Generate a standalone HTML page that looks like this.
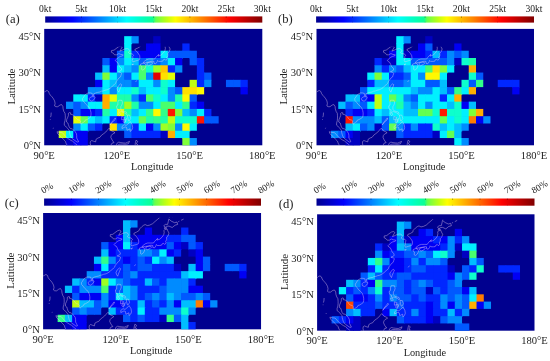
<!DOCTYPE html>
<html><head><meta charset="utf-8"><title>Figure</title>
<style>html,body{margin:0;padding:0;background:#fff}svg{display:block;filter:blur(0.3px)}text{font-family:'Liberation Serif',serif;fill:#222}</style></head><body>
<svg width="550" height="361" viewBox="0 0 550 361">
<rect width="550" height="361" fill="#fff"/>
<defs><linearGradient id="jet" x1="0" x2="1" y1="0" y2="0">
<stop offset="0.0000" stop-color="#00008f"/>
<stop offset="0.1250" stop-color="#0000ff"/>
<stop offset="0.2500" stop-color="#0080ff"/>
<stop offset="0.3750" stop-color="#00ffff"/>
<stop offset="0.4400" stop-color="#00ffc7"/>
<stop offset="0.4950" stop-color="#0dff94"/>
<stop offset="0.5100" stop-color="#66ff4c"/>
<stop offset="0.5600" stop-color="#bfff14"/>
<stop offset="0.6000" stop-color="#ffff00"/>
<stop offset="0.7250" stop-color="#ff8000"/>
<stop offset="0.8500" stop-color="#ff0000"/>
<stop offset="1.0000" stop-color="#800000"/>
</linearGradient></defs>
<g>
<rect x="44.20" y="28.90" width="218.10" height="116.40" fill="#00008f"/>
<rect x="124.17" y="36.17" width="7.97" height="7.98" fill="#00f0ff"/>
<rect x="131.44" y="36.17" width="7.27" height="7.28" fill="#008bff"/>
<rect x="153.25" y="36.17" width="7.27" height="7.98" fill="#0000c2"/>
<rect x="124.17" y="43.45" width="7.27" height="7.98" fill="#00f0ff"/>
<rect x="145.98" y="43.45" width="7.97" height="7.98" fill="#0000f4"/>
<rect x="153.25" y="43.45" width="7.27" height="7.98" fill="#0000f4"/>
<rect x="182.33" y="43.45" width="7.27" height="7.98" fill="#0027ff"/>
<rect x="116.90" y="50.73" width="7.97" height="7.98" fill="#0059ff"/>
<rect x="124.17" y="50.73" width="7.97" height="7.98" fill="#0dffcc"/>
<rect x="131.44" y="50.73" width="7.97" height="7.98" fill="#0027ff"/>
<rect x="138.71" y="50.73" width="7.97" height="7.98" fill="#0000f4"/>
<rect x="145.98" y="50.73" width="7.97" height="7.98" fill="#0000f4"/>
<rect x="153.25" y="50.73" width="7.97" height="7.98" fill="#0000f4"/>
<rect x="160.52" y="50.73" width="7.97" height="7.98" fill="#00f0ff"/>
<rect x="167.79" y="50.73" width="7.97" height="7.98" fill="#0059ff"/>
<rect x="175.06" y="50.73" width="7.97" height="7.98" fill="#0059ff"/>
<rect x="182.33" y="50.73" width="7.97" height="7.28" fill="#0059ff"/>
<rect x="189.60" y="50.73" width="7.27" height="7.98" fill="#0059ff"/>
<rect x="102.36" y="58.00" width="7.97" height="7.98" fill="#0059ff"/>
<rect x="109.63" y="58.00" width="7.97" height="7.98" fill="#0000f4"/>
<rect x="116.90" y="58.00" width="7.97" height="7.98" fill="#008bff"/>
<rect x="124.17" y="58.00" width="7.97" height="7.98" fill="#00f0ff"/>
<rect x="131.44" y="58.00" width="7.97" height="7.98" fill="#00beff"/>
<rect x="138.71" y="58.00" width="7.97" height="7.98" fill="#0059ff"/>
<rect x="145.98" y="58.00" width="7.97" height="7.98" fill="#008bff"/>
<rect x="153.25" y="58.00" width="7.97" height="7.98" fill="#0059ff"/>
<rect x="160.52" y="58.00" width="7.97" height="7.98" fill="#008bff"/>
<rect x="167.79" y="58.00" width="7.97" height="7.98" fill="#00f0ff"/>
<rect x="175.06" y="58.00" width="7.27" height="7.98" fill="#0000f4"/>
<rect x="189.60" y="58.00" width="7.97" height="7.28" fill="#0059ff"/>
<rect x="196.87" y="58.00" width="7.27" height="7.98" fill="#0027ff"/>
<rect x="102.36" y="65.28" width="7.97" height="7.98" fill="#00beff"/>
<rect x="109.63" y="65.28" width="7.97" height="7.98" fill="#0000f4"/>
<rect x="116.90" y="65.28" width="7.97" height="7.98" fill="#00f0ff"/>
<rect x="124.17" y="65.28" width="7.97" height="7.98" fill="#00beff"/>
<rect x="131.44" y="65.28" width="7.97" height="7.98" fill="#008bff"/>
<rect x="138.71" y="65.28" width="7.97" height="7.98" fill="#49ff6d"/>
<rect x="145.98" y="65.28" width="7.97" height="7.98" fill="#0dffcc"/>
<rect x="153.25" y="65.28" width="7.97" height="7.98" fill="#9eff24"/>
<rect x="160.52" y="65.28" width="7.97" height="7.98" fill="#ffc700"/>
<rect x="167.79" y="65.28" width="7.97" height="7.98" fill="#0027ff"/>
<rect x="175.06" y="65.28" width="7.27" height="7.28" fill="#008bff"/>
<rect x="196.87" y="65.28" width="7.27" height="7.98" fill="#0027ff"/>
<rect x="95.09" y="72.55" width="7.97" height="7.98" fill="#00beff"/>
<rect x="102.36" y="72.55" width="7.97" height="7.98" fill="#7fff39"/>
<rect x="109.63" y="72.55" width="7.97" height="7.98" fill="#00f0ff"/>
<rect x="116.90" y="72.55" width="7.97" height="7.98" fill="#008bff"/>
<rect x="124.17" y="72.55" width="7.97" height="7.98" fill="#0059ff"/>
<rect x="131.44" y="72.55" width="7.97" height="7.98" fill="#00f0ff"/>
<rect x="138.71" y="72.55" width="7.97" height="7.98" fill="#49ff6d"/>
<rect x="145.98" y="72.55" width="7.97" height="7.98" fill="#008bff"/>
<rect x="153.25" y="72.55" width="7.97" height="7.98" fill="#e40000"/>
<rect x="160.52" y="72.55" width="7.97" height="7.98" fill="#ffe000"/>
<rect x="167.79" y="72.55" width="7.27" height="7.98" fill="#e3ff05"/>
<rect x="196.87" y="72.55" width="7.97" height="7.98" fill="#0027ff"/>
<rect x="204.14" y="72.55" width="7.27" height="7.98" fill="#0059ff"/>
<rect x="95.09" y="79.83" width="7.97" height="7.98" fill="#0000f4"/>
<rect x="102.36" y="79.83" width="7.97" height="7.98" fill="#00f0ff"/>
<rect x="109.63" y="79.83" width="7.97" height="7.98" fill="#00beff"/>
<rect x="116.90" y="79.83" width="7.97" height="7.98" fill="#008bff"/>
<rect x="124.17" y="79.83" width="7.97" height="7.98" fill="#008bff"/>
<rect x="131.44" y="79.83" width="7.97" height="7.98" fill="#0059ff"/>
<rect x="138.71" y="79.83" width="7.97" height="7.98" fill="#00f0ff"/>
<rect x="145.98" y="79.83" width="7.97" height="7.98" fill="#00f0ff"/>
<rect x="153.25" y="79.83" width="7.97" height="7.98" fill="#008bff"/>
<rect x="160.52" y="79.83" width="7.97" height="7.98" fill="#0dffcc"/>
<rect x="167.79" y="79.83" width="7.27" height="7.98" fill="#00f0ff"/>
<rect x="189.60" y="79.83" width="7.97" height="7.98" fill="#c0ff12"/>
<rect x="196.87" y="79.83" width="7.97" height="7.98" fill="#0027ff"/>
<rect x="204.14" y="79.83" width="7.27" height="7.28" fill="#008bff"/>
<rect x="225.95" y="79.83" width="7.97" height="7.28" fill="#0059ff"/>
<rect x="233.22" y="79.83" width="7.97" height="7.28" fill="#0059ff"/>
<rect x="240.49" y="79.83" width="7.27" height="7.98" fill="#0027ff"/>
<rect x="87.82" y="87.10" width="7.97" height="7.98" fill="#008bff"/>
<rect x="95.09" y="87.10" width="7.97" height="7.98" fill="#008bff"/>
<rect x="102.36" y="87.10" width="7.97" height="7.98" fill="#00f0ff"/>
<rect x="109.63" y="87.10" width="7.97" height="7.98" fill="#008bff"/>
<rect x="116.90" y="87.10" width="7.97" height="7.98" fill="#00f0ff"/>
<rect x="124.17" y="87.10" width="7.97" height="7.98" fill="#00f0ff"/>
<rect x="131.44" y="87.10" width="7.97" height="7.98" fill="#0dffcc"/>
<rect x="138.71" y="87.10" width="7.97" height="7.98" fill="#00beff"/>
<rect x="145.98" y="87.10" width="7.97" height="7.98" fill="#00f0ff"/>
<rect x="153.25" y="87.10" width="7.97" height="7.98" fill="#00f0ff"/>
<rect x="160.52" y="87.10" width="7.97" height="7.98" fill="#0dffcc"/>
<rect x="167.79" y="87.10" width="7.97" height="7.98" fill="#008bff"/>
<rect x="175.06" y="87.10" width="7.97" height="7.98" fill="#0059ff"/>
<rect x="182.33" y="87.10" width="7.97" height="7.98" fill="#ffe000"/>
<rect x="189.60" y="87.10" width="7.97" height="7.98" fill="#ffe000"/>
<rect x="196.87" y="87.10" width="7.27" height="7.28" fill="#fff900"/>
<rect x="240.49" y="87.10" width="7.27" height="7.28" fill="#0000f4"/>
<rect x="73.28" y="94.38" width="7.97" height="7.98" fill="#00f0ff"/>
<rect x="80.55" y="94.38" width="7.97" height="7.98" fill="#00f0ff"/>
<rect x="87.82" y="94.38" width="7.97" height="7.98" fill="#0027ff"/>
<rect x="95.09" y="94.38" width="7.97" height="7.98" fill="#0000c2"/>
<rect x="102.36" y="94.38" width="7.97" height="7.98" fill="#ffae00"/>
<rect x="109.63" y="94.38" width="7.97" height="7.98" fill="#e3ff05"/>
<rect x="116.90" y="94.38" width="7.97" height="7.98" fill="#1dffaa"/>
<rect x="124.17" y="94.38" width="7.97" height="7.98" fill="#1dffaa"/>
<rect x="131.44" y="94.38" width="7.97" height="7.98" fill="#008bff"/>
<rect x="138.71" y="94.38" width="7.97" height="7.98" fill="#0027ff"/>
<rect x="145.98" y="94.38" width="7.97" height="7.98" fill="#49ff6d"/>
<rect x="153.25" y="94.38" width="7.97" height="7.98" fill="#0dffcc"/>
<rect x="160.52" y="94.38" width="7.97" height="7.98" fill="#00f0ff"/>
<rect x="167.79" y="94.38" width="7.97" height="7.98" fill="#008bff"/>
<rect x="175.06" y="94.38" width="7.97" height="7.98" fill="#1dffaa"/>
<rect x="182.33" y="94.38" width="7.97" height="7.98" fill="#fff900"/>
<rect x="189.60" y="94.38" width="7.27" height="7.98" fill="#0059ff"/>
<rect x="66.01" y="101.65" width="7.97" height="7.28" fill="#008bff"/>
<rect x="73.28" y="101.65" width="7.97" height="7.98" fill="#0059ff"/>
<rect x="80.55" y="101.65" width="7.97" height="7.98" fill="#008bff"/>
<rect x="87.82" y="101.65" width="7.97" height="7.98" fill="#00f0ff"/>
<rect x="95.09" y="101.65" width="7.97" height="7.98" fill="#00f0ff"/>
<rect x="102.36" y="101.65" width="7.97" height="7.98" fill="#ffae00"/>
<rect x="109.63" y="101.65" width="7.97" height="7.98" fill="#1dffaa"/>
<rect x="116.90" y="101.65" width="7.97" height="7.98" fill="#1dffaa"/>
<rect x="124.17" y="101.65" width="7.97" height="7.98" fill="#9eff24"/>
<rect x="131.44" y="101.65" width="7.97" height="7.98" fill="#1dffaa"/>
<rect x="138.71" y="101.65" width="7.97" height="7.98" fill="#008bff"/>
<rect x="145.98" y="101.65" width="7.97" height="7.98" fill="#008bff"/>
<rect x="153.25" y="101.65" width="7.97" height="7.98" fill="#00f0ff"/>
<rect x="160.52" y="101.65" width="7.97" height="7.98" fill="#49ff6d"/>
<rect x="167.79" y="101.65" width="7.97" height="7.98" fill="#49ff6d"/>
<rect x="175.06" y="101.65" width="7.97" height="7.98" fill="#00f0ff"/>
<rect x="182.33" y="101.65" width="7.97" height="7.98" fill="#31ff8a"/>
<rect x="189.60" y="101.65" width="7.97" height="7.98" fill="#0027ff"/>
<rect x="196.87" y="101.65" width="7.27" height="7.98" fill="#0000f4"/>
<rect x="73.28" y="108.93" width="7.97" height="7.98" fill="#0059ff"/>
<rect x="80.55" y="108.93" width="7.97" height="7.98" fill="#0000f4"/>
<rect x="87.82" y="108.93" width="7.97" height="7.98" fill="#0000f4"/>
<rect x="95.09" y="108.93" width="7.97" height="7.98" fill="#0027ff"/>
<rect x="102.36" y="108.93" width="7.97" height="7.98" fill="#1dffaa"/>
<rect x="109.63" y="108.93" width="7.97" height="7.98" fill="#00f0ff"/>
<rect x="116.90" y="108.93" width="7.97" height="7.98" fill="#e3ff05"/>
<rect x="124.17" y="108.93" width="7.97" height="7.98" fill="#1dffaa"/>
<rect x="131.44" y="108.93" width="7.97" height="7.98" fill="#00beff"/>
<rect x="138.71" y="108.93" width="7.97" height="7.98" fill="#00f0ff"/>
<rect x="145.98" y="108.93" width="7.97" height="7.98" fill="#31ff8a"/>
<rect x="153.25" y="108.93" width="7.97" height="7.98" fill="#fff900"/>
<rect x="160.52" y="108.93" width="7.97" height="7.98" fill="#31ff8a"/>
<rect x="167.79" y="108.93" width="7.97" height="7.98" fill="#ff1700"/>
<rect x="175.06" y="108.93" width="7.97" height="7.98" fill="#7fff39"/>
<rect x="182.33" y="108.93" width="7.97" height="7.98" fill="#00beff"/>
<rect x="189.60" y="108.93" width="7.97" height="7.98" fill="#008bff"/>
<rect x="196.87" y="108.93" width="7.97" height="7.98" fill="#00f0ff"/>
<rect x="204.14" y="108.93" width="7.27" height="7.98" fill="#0027ff"/>
<rect x="73.28" y="116.20" width="7.97" height="7.98" fill="#e3ff05"/>
<rect x="80.55" y="116.20" width="7.97" height="7.98" fill="#63ff52"/>
<rect x="87.82" y="116.20" width="7.97" height="7.98" fill="#00f0ff"/>
<rect x="95.09" y="116.20" width="7.97" height="7.98" fill="#00beff"/>
<rect x="102.36" y="116.20" width="7.97" height="7.28" fill="#00f0ff"/>
<rect x="109.63" y="116.20" width="7.97" height="7.98" fill="#0027ff"/>
<rect x="116.90" y="116.20" width="7.97" height="7.98" fill="#0000f4"/>
<rect x="124.17" y="116.20" width="7.97" height="7.98" fill="#00f0ff"/>
<rect x="131.44" y="116.20" width="7.97" height="7.98" fill="#00f0ff"/>
<rect x="138.71" y="116.20" width="7.97" height="7.98" fill="#63ff52"/>
<rect x="145.98" y="116.20" width="7.97" height="7.98" fill="#1dffaa"/>
<rect x="153.25" y="116.20" width="7.97" height="7.98" fill="#31ff8a"/>
<rect x="160.52" y="116.20" width="7.97" height="7.98" fill="#1dffaa"/>
<rect x="167.79" y="116.20" width="7.97" height="7.98" fill="#c0ff12"/>
<rect x="175.06" y="116.20" width="7.97" height="7.98" fill="#0dffcc"/>
<rect x="182.33" y="116.20" width="7.97" height="7.98" fill="#0dffcc"/>
<rect x="189.60" y="116.20" width="7.97" height="7.98" fill="#0dffcc"/>
<rect x="196.87" y="116.20" width="7.97" height="7.28" fill="#ff1700"/>
<rect x="204.14" y="116.20" width="7.97" height="7.28" fill="#0059ff"/>
<rect x="211.41" y="116.20" width="7.27" height="7.28" fill="#0059ff"/>
<rect x="73.28" y="123.47" width="7.97" height="7.98" fill="#008bff"/>
<rect x="80.55" y="123.47" width="7.97" height="7.98" fill="#00f0ff"/>
<rect x="87.82" y="123.47" width="7.97" height="7.28" fill="#0059ff"/>
<rect x="95.09" y="123.47" width="7.27" height="7.28" fill="#0027ff"/>
<rect x="109.63" y="123.47" width="7.97" height="7.28" fill="#ffe000"/>
<rect x="116.90" y="123.47" width="7.97" height="7.28" fill="#008bff"/>
<rect x="124.17" y="123.47" width="7.97" height="7.98" fill="#008bff"/>
<rect x="131.44" y="123.47" width="7.97" height="7.98" fill="#0027ff"/>
<rect x="138.71" y="123.47" width="7.97" height="7.98" fill="#00f0ff"/>
<rect x="145.98" y="123.47" width="7.97" height="7.98" fill="#0000f4"/>
<rect x="153.25" y="123.47" width="7.97" height="7.98" fill="#008bff"/>
<rect x="160.52" y="123.47" width="7.97" height="7.98" fill="#9eff24"/>
<rect x="167.79" y="123.47" width="7.97" height="7.98" fill="#7fff39"/>
<rect x="175.06" y="123.47" width="7.97" height="7.98" fill="#008bff"/>
<rect x="182.33" y="123.47" width="7.97" height="7.98" fill="#fff900"/>
<rect x="189.60" y="123.47" width="7.27" height="7.28" fill="#00f0ff"/>
<rect x="58.74" y="130.75" width="7.97" height="7.28" fill="#c0ff12"/>
<rect x="66.01" y="130.75" width="7.97" height="7.98" fill="#00f0ff"/>
<rect x="73.28" y="130.75" width="7.97" height="7.98" fill="#0000f4"/>
<rect x="80.55" y="130.75" width="7.27" height="7.98" fill="#0000f4"/>
<rect x="124.17" y="130.75" width="7.97" height="7.28" fill="#0059ff"/>
<rect x="131.44" y="130.75" width="7.97" height="7.28" fill="#0027ff"/>
<rect x="138.71" y="130.75" width="7.97" height="7.28" fill="#0027ff"/>
<rect x="145.98" y="130.75" width="7.97" height="7.28" fill="#0027ff"/>
<rect x="153.25" y="130.75" width="7.97" height="7.28" fill="#0027ff"/>
<rect x="160.52" y="130.75" width="7.97" height="7.28" fill="#0000c2"/>
<rect x="167.79" y="130.75" width="7.97" height="7.28" fill="#ffae00"/>
<rect x="175.06" y="130.75" width="7.97" height="7.28" fill="#00f0ff"/>
<rect x="182.33" y="130.75" width="7.27" height="7.98" fill="#00f0ff"/>
<rect x="66.01" y="138.03" width="7.97" height="7.28" fill="#0000c2"/>
<rect x="73.28" y="138.03" width="7.97" height="7.28" fill="#0000f4"/>
<rect x="80.55" y="138.03" width="7.27" height="7.28" fill="#0000f4"/>
<rect x="182.33" y="138.03" width="7.97" height="7.28" fill="#7fff39"/>
<rect x="189.60" y="138.03" width="7.27" height="7.28" fill="#008bff"/>
<clipPath id="cla"><rect x="44.20" y="46.84" width="218.10" height="98.46"/></clipPath>
<g clip-path="url(#cla)">
<g fill="none" stroke="#f2d8f2" stroke-width="0.5" stroke-opacity="0.8" stroke-linejoin="round"><polyline points="166.1,28.9 163.7,30.8 161.2,33.0 158.6,35.4 156.2,37.4 153.7,39.6 150.8,41.0 148.4,41.5 146.5,40.5 145.0,41.0 142.8,42.7 140.6,44.9 140.4,46.4 137.7,48.1 135.3,49.0 134.8,50.2 136.8,51.5 138.2,53.4 139.7,55.6 139.9,58.0 139.4,59.7 137.7,60.4 135.8,60.9 132.9,61.9 132.2,60.4 132.9,58.5 132.7,56.5 133.6,55.6 132.4,53.9 129.7,53.6 128.5,52.7 129.7,50.7 129.0,49.3 127.3,48.5 124.7,49.0 122.2,50.2 119.8,51.2 120.8,49.5 122.2,47.1 120.8,46.1 118.8,46.6 116.2,48.5 114.0,50.2 111.6,50.5 111.3,52.2 113.3,53.2 114.5,54.8 116.7,54.8 118.8,53.6 120.8,54.4 123.2,54.8 122.7,55.8 120.1,56.5 118.4,57.5 116.7,59.0 115.2,60.4 116.2,61.6 117.6,62.4 118.8,64.8 119.3,66.5 121.3,68.2 121.5,70.1 119.8,71.1 118.4,71.8 120.8,72.5 121.7,73.3 121.0,75.2 120.5,76.9 118.8,78.1 117.6,79.8 116.4,81.3 115.7,83.2 114.2,84.7 112.5,85.9 111.1,87.6 109.1,88.8 107.2,89.8 104.8,90.3 103.1,91.0 101.4,91.2 99.9,92.0 97.5,92.4 95.1,93.2 93.6,93.9 93.6,95.8 92.4,95.8 92.2,93.4 90.2,92.9 88.3,92.9 86.4,93.9 84.7,95.3 83.7,97.0 82.5,98.7 82.7,100.4 84.2,102.1 85.9,104.3 87.8,106.0 89.5,108.0 90.5,110.4 91.0,112.8 91.0,115.0 90.5,117.2 88.8,118.4 86.9,119.6 85.2,120.1 84.7,121.5 83.0,122.5 81.0,124.2 80.3,122.7 80.6,121.1 79.3,120.1 77.4,119.6 75.9,118.1 75.2,116.7 73.8,115.5 72.1,114.5 70.6,114.3 70.6,112.8 69.4,112.6 68.4,113.3 68.4,115.5 67.7,117.4 66.7,119.6 66.5,122.0 67.9,123.0 68.4,124.7 69.2,126.9 70.4,128.6 72.3,128.8 73.8,130.3 75.2,131.7 76.4,133.7 76.7,135.6 76.7,138.0 77.6,139.7 78.6,141.7 77.2,142.1 75.2,140.7 73.0,139.2 71.6,138.0 70.4,135.8 69.9,134.1 69.4,132.2 69.2,130.3 67.9,128.8 66.7,127.4 65.5,126.1 64.3,125.2 64.3,123.0 65.0,120.6 65.3,118.1 65.3,115.7 65.0,113.3 63.8,111.4 63.1,108.9 62.9,106.5 61.6,104.6 60.0,105.0 57.8,106.7 55.8,106.7 54.6,106.0 55.1,103.3 54.6,100.9 53.4,98.7 52.0,96.8 50.5,95.3 49.3,93.6 48.6,91.5 47.1,90.5 45.7,91.0 44.7,92.0 44.2,92.2"/><polyline points="92.7,96.6 94.8,96.8 95.1,97.8 93.9,99.7 91.9,101.2 89.8,100.4 89.3,98.5 90.7,97.0 92.7,96.6"/><polyline points="120.5,83.9 121.7,84.7 120.8,87.1 119.6,90.0 118.8,92.2 117.6,90.5 117.1,88.3 118.4,85.9 120.5,83.9"/><polyline points="131.9,64.5 133.6,64.1 132.9,64.8 131.9,64.5"/><polyline points="143.3,63.1 145.3,63.8 146.0,65.8 144.8,68.7 142.8,70.1 141.6,69.4 141.9,66.5 140.4,65.5 140.6,64.1 143.3,63.1"/><polyline points="147.2,62.9 150.1,62.1 152.3,62.4 152.5,63.3 151.3,64.5 148.4,65.8 146.9,64.5 147.2,62.9"/><polyline points="143.3,62.9 143.6,61.9 146.5,59.7 148.9,59.0 152.0,59.0 154.7,59.0 155.7,57.5 157.4,55.6 158.8,54.4 158.1,56.1 161.0,55.1 163.2,53.2 164.9,50.7 165.4,48.3 165.1,46.6 166.1,45.4 168.3,44.9 169.0,46.8 170.2,49.0 169.2,51.7 167.8,53.2 167.8,55.6 166.8,57.5 167.3,58.7 165.9,60.4 164.9,59.2 163.4,59.7 162.7,61.2 161.0,61.4 158.6,61.4 157.6,60.4 157.1,61.9 155.7,63.8 154.0,63.3 154.0,61.4 152.0,61.2 149.6,61.9 146.7,62.4 143.6,63.0 143.3,62.9"/><polyline points="165.6,44.7 166.1,42.7 164.9,41.8 166.6,40.3 168.8,40.3 169.5,37.4 170.0,35.0 172.6,37.1 175.8,38.6 178.2,37.9 178.9,40.3 176.3,41.1 173.4,43.5 170.2,42.0 167.8,42.2 166.6,43.2 168.0,43.9 165.6,44.7"/><polyline points="170.5,28.9 170.2,31.3 170.5,33.8 172.2,32.1 173.6,33.0 173.1,30.8 172.2,28.9"/><polyline points="118.4,100.4 119.8,100.2 122.0,100.4 122.5,103.1 121.7,105.3 120.8,106.7 120.8,109.2 122.2,111.1 124.2,111.4 126.4,112.1 126.8,113.8 126.4,114.5 124.9,113.0 123.2,112.3 121.3,111.6 119.6,112.1 118.6,111.6 119.1,109.9 117.4,109.4 116.7,107.5 116.7,105.8 117.9,105.0 117.9,102.6 118.4,100.4"/><polyline points="117.9,112.8 119.8,112.8 120.5,114.7 119.6,115.7 118.4,114.3 117.9,112.8"/><polyline points="110.1,124.9 112.1,122.7 114.0,120.6 115.7,119.1 115.2,117.9 113.5,120.1 111.3,122.7 110.1,124.9"/><polyline points="121.7,116.4 124.4,117.4 123.4,119.6 121.7,119.8 121.7,116.4"/><polyline points="124.2,118.9 125.4,119.4 124.7,123.0 123.0,122.0 124.2,118.9"/><polyline points="126.6,118.1 125.4,122.0"/><polyline points="127.3,115.0 129.7,115.2 130.7,118.4 129.5,120.6 128.5,120.8 127.8,117.9 127.3,115.0"/><polyline points="130.2,121.5 132.2,124.7 132.7,127.8 131.9,130.0 130.2,131.5 130.0,128.8 127.1,130.3 126.6,127.4 125.1,126.9 122.0,128.6 122.0,126.4 124.2,124.7 126.1,125.4 128.0,124.0 130.2,121.5"/><polyline points="90.7,145.3 90.2,143.1 90.5,141.4 91.7,140.5 93.4,141.2 95.6,141.9 96.1,139.2 98.0,138.0 99.9,137.3 101.6,135.1 103.6,133.7 105.8,132.0 107.2,130.3 108.9,128.3 110.4,129.3 111.3,130.8 113.5,131.7 115.0,132.7 112.5,134.1 111.3,135.4 110.8,137.3 112.1,140.0 114.0,142.6 112.1,143.1 110.8,145.3"/><polyline points="67.5,145.3 66.3,144.1 65.3,141.2 63.1,139.0 60.9,136.6 57.8,133.9 57.0,131.7 59.5,132.4 62.4,132.7 64.3,134.9 66.0,136.8 68.4,138.8 70.6,140.2 72.6,141.2 74.5,142.9 75.9,144.1 77.4,145.3"/><polyline points="116.4,145.3 116.9,143.4 118.8,142.1 120.8,142.6 123.2,142.9 125.6,143.1 127.8,142.1 129.5,141.4 128.3,143.8 125.6,144.3 122.7,144.1 119.8,144.1 117.6,145.3"/><polyline points="135.1,145.3 135.3,142.9 136.0,140.2 137.7,141.4 136.3,143.8 137.7,144.6 136.8,145.3"/><polyline points="51.2,112.6 51.0,115.5 50.5,117.2"/><polyline points="50.3,119.1 50.3,119.8"/><polyline points="53.4,127.8 53.2,128.6"/><polyline points="136.8,80.3 135.6,82.0"/><polyline points="179.4,37.6 180.6,37.1"/><polyline points="182.3,36.2 184.8,35.0"/></g>
</g>
<rect x="45.20" y="16.40" width="217.10" height="6.20" fill="url(#jet)"/>
<rect x="81.08" y="16.40" width="0.6" height="1.4" fill="#000" fill-opacity="0.55"/>
<rect x="81.08" y="21.60" width="0.6" height="1.0" fill="#000" fill-opacity="0.3"/>
<rect x="117.27" y="16.40" width="0.6" height="1.4" fill="#000" fill-opacity="0.55"/>
<rect x="117.27" y="21.60" width="0.6" height="1.0" fill="#000" fill-opacity="0.3"/>
<rect x="153.45" y="16.40" width="0.6" height="1.4" fill="#000" fill-opacity="0.55"/>
<rect x="153.45" y="21.60" width="0.6" height="1.0" fill="#000" fill-opacity="0.3"/>
<rect x="189.63" y="16.40" width="0.6" height="1.4" fill="#000" fill-opacity="0.55"/>
<rect x="189.63" y="21.60" width="0.6" height="1.0" fill="#000" fill-opacity="0.3"/>
<rect x="225.82" y="16.40" width="0.6" height="1.4" fill="#000" fill-opacity="0.55"/>
<rect x="225.82" y="21.60" width="0.6" height="1.0" fill="#000" fill-opacity="0.3"/>
<text x="45.20" y="11.70" font-size="9.6" text-anchor="middle">0kt</text>
<text x="81.38" y="11.70" font-size="9.6" text-anchor="middle">5kt</text>
<text x="117.57" y="11.70" font-size="9.6" text-anchor="middle">10kt</text>
<text x="153.75" y="11.70" font-size="9.6" text-anchor="middle">15kt</text>
<text x="189.93" y="11.70" font-size="9.6" text-anchor="middle">20kt</text>
<text x="226.12" y="11.70" font-size="9.6" text-anchor="middle">25kt</text>
<text x="262.30" y="11.70" font-size="9.6" text-anchor="middle">30kt</text>
<text x="40.90" y="149.20" font-size="10.6" text-anchor="end">0°N</text>
<text x="40.90" y="112.83" font-size="10.6" text-anchor="end">15°N</text>
<text x="40.90" y="76.45" font-size="10.6" text-anchor="end">30°N</text>
<text x="40.90" y="40.07" font-size="10.6" text-anchor="end">45°N</text>
<text x="44.20" y="158.60" font-size="10.6" text-anchor="middle">90°E</text>
<text x="116.90" y="158.60" font-size="10.6" text-anchor="middle">120°E</text>
<text x="189.60" y="158.60" font-size="10.6" text-anchor="middle">150°E</text>
<text x="262.30" y="158.60" font-size="10.6" text-anchor="middle">180°E</text>
<text x="152.25" y="170.10" font-size="10.3" text-anchor="middle">Longitude</text>
<text transform="translate(15.00 86.60) rotate(-90)" font-size="10.8" text-anchor="middle">Latitude</text>
<text x="5.80" y="22.90" font-size="12.6" text-anchor="start">(a)</text>
</g>
<g>
<rect x="316.50" y="28.90" width="217.50" height="116.40" fill="#00008f"/>
<rect x="396.25" y="36.17" width="7.95" height="7.98" fill="#00f0ff"/>
<rect x="403.50" y="36.17" width="7.25" height="7.28" fill="#008bff"/>
<rect x="425.25" y="36.17" width="7.25" height="7.98" fill="#0000c2"/>
<rect x="396.25" y="43.45" width="7.25" height="7.98" fill="#00f0ff"/>
<rect x="418.00" y="43.45" width="7.95" height="7.98" fill="#0000f4"/>
<rect x="425.25" y="43.45" width="7.25" height="7.98" fill="#0059ff"/>
<rect x="454.25" y="43.45" width="7.25" height="7.98" fill="#0000f4"/>
<rect x="389.00" y="50.73" width="7.95" height="7.98" fill="#0000f4"/>
<rect x="396.25" y="50.73" width="7.95" height="7.98" fill="#00f0ff"/>
<rect x="403.50" y="50.73" width="7.95" height="7.98" fill="#0000c2"/>
<rect x="410.75" y="50.73" width="7.95" height="7.98" fill="#0000f4"/>
<rect x="418.00" y="50.73" width="7.95" height="7.98" fill="#0000f4"/>
<rect x="425.25" y="50.73" width="7.95" height="7.98" fill="#0027ff"/>
<rect x="432.50" y="50.73" width="7.95" height="7.98" fill="#00beff"/>
<rect x="439.75" y="50.73" width="7.95" height="7.98" fill="#0027ff"/>
<rect x="447.00" y="50.73" width="7.95" height="7.98" fill="#008bff"/>
<rect x="454.25" y="50.73" width="7.95" height="7.98" fill="#0059ff"/>
<rect x="461.50" y="50.73" width="7.25" height="7.98" fill="#008bff"/>
<rect x="374.50" y="58.00" width="7.95" height="7.98" fill="#0027ff"/>
<rect x="381.75" y="58.00" width="7.95" height="7.98" fill="#0000c2"/>
<rect x="389.00" y="58.00" width="7.95" height="7.98" fill="#0000c2"/>
<rect x="396.25" y="58.00" width="7.95" height="7.98" fill="#00f0ff"/>
<rect x="403.50" y="58.00" width="7.95" height="7.98" fill="#00f0ff"/>
<rect x="410.75" y="58.00" width="7.95" height="7.98" fill="#0059ff"/>
<rect x="418.00" y="58.00" width="7.95" height="7.98" fill="#0059ff"/>
<rect x="425.25" y="58.00" width="7.95" height="7.98" fill="#0059ff"/>
<rect x="432.50" y="58.00" width="7.95" height="7.98" fill="#0059ff"/>
<rect x="439.75" y="58.00" width="7.95" height="7.98" fill="#0059ff"/>
<rect x="447.00" y="58.00" width="7.95" height="7.98" fill="#008bff"/>
<rect x="454.25" y="58.00" width="7.95" height="7.28" fill="#0000c2"/>
<rect x="461.50" y="58.00" width="7.95" height="7.28" fill="#0dffcc"/>
<rect x="468.75" y="58.00" width="7.25" height="7.98" fill="#1dffaa"/>
<rect x="374.50" y="65.28" width="7.95" height="7.98" fill="#008bff"/>
<rect x="381.75" y="65.28" width="7.95" height="7.98" fill="#0027ff"/>
<rect x="389.00" y="65.28" width="7.95" height="7.98" fill="#008bff"/>
<rect x="396.25" y="65.28" width="7.95" height="7.98" fill="#0059ff"/>
<rect x="403.50" y="65.28" width="7.95" height="7.98" fill="#00beff"/>
<rect x="410.75" y="65.28" width="7.95" height="7.98" fill="#00f0ff"/>
<rect x="418.00" y="65.28" width="7.95" height="7.98" fill="#00f0ff"/>
<rect x="425.25" y="65.28" width="7.95" height="7.98" fill="#49ff6d"/>
<rect x="432.50" y="65.28" width="7.95" height="7.98" fill="#ffe000"/>
<rect x="439.75" y="65.28" width="7.95" height="7.98" fill="#7fff39"/>
<rect x="447.00" y="65.28" width="7.25" height="7.28" fill="#00f0ff"/>
<rect x="468.75" y="65.28" width="7.25" height="7.98" fill="#ffae00"/>
<rect x="367.25" y="72.55" width="7.95" height="7.98" fill="#00f0ff"/>
<rect x="374.50" y="72.55" width="7.95" height="7.98" fill="#7fff39"/>
<rect x="381.75" y="72.55" width="7.95" height="7.98" fill="#00f0ff"/>
<rect x="389.00" y="72.55" width="7.95" height="7.98" fill="#0027ff"/>
<rect x="396.25" y="72.55" width="7.95" height="7.98" fill="#0027ff"/>
<rect x="403.50" y="72.55" width="7.95" height="7.98" fill="#0059ff"/>
<rect x="410.75" y="72.55" width="7.95" height="7.98" fill="#00f0ff"/>
<rect x="418.00" y="72.55" width="7.95" height="7.98" fill="#008bff"/>
<rect x="425.25" y="72.55" width="7.95" height="7.98" fill="#fff900"/>
<rect x="432.50" y="72.55" width="7.95" height="7.98" fill="#fff900"/>
<rect x="439.75" y="72.55" width="7.25" height="7.98" fill="#00f0ff"/>
<rect x="468.75" y="72.55" width="7.95" height="7.98" fill="#0dffcc"/>
<rect x="476.00" y="72.55" width="7.25" height="7.98" fill="#0059ff"/>
<rect x="367.25" y="79.83" width="7.95" height="7.98" fill="#0027ff"/>
<rect x="374.50" y="79.83" width="7.95" height="7.98" fill="#00beff"/>
<rect x="381.75" y="79.83" width="7.95" height="7.98" fill="#00beff"/>
<rect x="389.00" y="79.83" width="7.95" height="7.98" fill="#0059ff"/>
<rect x="396.25" y="79.83" width="7.95" height="7.98" fill="#0059ff"/>
<rect x="403.50" y="79.83" width="7.95" height="7.98" fill="#008bff"/>
<rect x="410.75" y="79.83" width="7.95" height="7.98" fill="#00f0ff"/>
<rect x="418.00" y="79.83" width="7.95" height="7.98" fill="#00f0ff"/>
<rect x="425.25" y="79.83" width="7.95" height="7.98" fill="#0059ff"/>
<rect x="432.50" y="79.83" width="7.95" height="7.98" fill="#0059ff"/>
<rect x="439.75" y="79.83" width="7.25" height="7.98" fill="#00beff"/>
<rect x="461.50" y="79.83" width="7.95" height="7.98" fill="#0dffcc"/>
<rect x="468.75" y="79.83" width="7.95" height="7.98" fill="#0059ff"/>
<rect x="476.00" y="79.83" width="7.25" height="7.28" fill="#31ff8a"/>
<rect x="497.75" y="79.83" width="7.95" height="7.28" fill="#0027ff"/>
<rect x="505.00" y="79.83" width="7.95" height="7.28" fill="#0027ff"/>
<rect x="512.25" y="79.83" width="7.25" height="7.98" fill="#0027ff"/>
<rect x="360.00" y="87.10" width="7.95" height="7.98" fill="#0059ff"/>
<rect x="367.25" y="87.10" width="7.95" height="7.98" fill="#00f0ff"/>
<rect x="374.50" y="87.10" width="7.95" height="7.98" fill="#00f0ff"/>
<rect x="381.75" y="87.10" width="7.95" height="7.98" fill="#00f0ff"/>
<rect x="389.00" y="87.10" width="7.95" height="7.98" fill="#00f0ff"/>
<rect x="396.25" y="87.10" width="7.95" height="7.98" fill="#00f0ff"/>
<rect x="403.50" y="87.10" width="7.95" height="7.98" fill="#00f0ff"/>
<rect x="410.75" y="87.10" width="7.95" height="7.98" fill="#00beff"/>
<rect x="418.00" y="87.10" width="7.95" height="7.98" fill="#008bff"/>
<rect x="425.25" y="87.10" width="7.95" height="7.98" fill="#008bff"/>
<rect x="432.50" y="87.10" width="7.95" height="7.98" fill="#00f0ff"/>
<rect x="439.75" y="87.10" width="7.95" height="7.98" fill="#00beff"/>
<rect x="447.00" y="87.10" width="7.95" height="7.98" fill="#0059ff"/>
<rect x="454.25" y="87.10" width="7.95" height="7.98" fill="#31ff8a"/>
<rect x="461.50" y="87.10" width="7.95" height="7.28" fill="#00f0ff"/>
<rect x="468.75" y="87.10" width="7.25" height="7.28" fill="#ffae00"/>
<rect x="512.25" y="87.10" width="7.25" height="7.28" fill="#0000f4"/>
<rect x="345.50" y="94.38" width="7.95" height="7.98" fill="#00beff"/>
<rect x="352.75" y="94.38" width="7.95" height="7.98" fill="#00beff"/>
<rect x="360.00" y="94.38" width="7.95" height="7.98" fill="#0027ff"/>
<rect x="367.25" y="94.38" width="7.95" height="7.98" fill="#0000f4"/>
<rect x="374.50" y="94.38" width="7.95" height="7.98" fill="#c0ff12"/>
<rect x="381.75" y="94.38" width="7.95" height="7.98" fill="#00f0ff"/>
<rect x="389.00" y="94.38" width="7.95" height="7.98" fill="#63ff52"/>
<rect x="396.25" y="94.38" width="7.95" height="7.98" fill="#0dffcc"/>
<rect x="403.50" y="94.38" width="7.95" height="7.98" fill="#008bff"/>
<rect x="410.75" y="94.38" width="7.95" height="7.98" fill="#0059ff"/>
<rect x="418.00" y="94.38" width="7.95" height="7.98" fill="#00f0ff"/>
<rect x="425.25" y="94.38" width="7.95" height="7.98" fill="#00f0ff"/>
<rect x="432.50" y="94.38" width="7.95" height="7.98" fill="#00f0ff"/>
<rect x="439.75" y="94.38" width="7.95" height="7.98" fill="#0027ff"/>
<rect x="447.00" y="94.38" width="7.95" height="7.98" fill="#00f0ff"/>
<rect x="454.25" y="94.38" width="7.25" height="7.98" fill="#ffae00"/>
<rect x="338.25" y="101.65" width="7.95" height="7.28" fill="#00beff"/>
<rect x="345.50" y="101.65" width="7.95" height="7.98" fill="#0059ff"/>
<rect x="352.75" y="101.65" width="7.95" height="7.98" fill="#008bff"/>
<rect x="360.00" y="101.65" width="7.95" height="7.98" fill="#0059ff"/>
<rect x="367.25" y="101.65" width="7.95" height="7.98" fill="#00f0ff"/>
<rect x="374.50" y="101.65" width="7.95" height="7.98" fill="#c0ff12"/>
<rect x="381.75" y="101.65" width="7.95" height="7.98" fill="#00f0ff"/>
<rect x="389.00" y="101.65" width="7.95" height="7.98" fill="#00f0ff"/>
<rect x="396.25" y="101.65" width="7.95" height="7.98" fill="#1dffaa"/>
<rect x="403.50" y="101.65" width="7.95" height="7.98" fill="#00beff"/>
<rect x="410.75" y="101.65" width="7.95" height="7.98" fill="#008bff"/>
<rect x="418.00" y="101.65" width="7.95" height="7.98" fill="#00f0ff"/>
<rect x="425.25" y="101.65" width="7.95" height="7.98" fill="#008bff"/>
<rect x="432.50" y="101.65" width="7.95" height="7.98" fill="#00f0ff"/>
<rect x="439.75" y="101.65" width="7.95" height="7.98" fill="#00f0ff"/>
<rect x="447.00" y="101.65" width="7.95" height="7.98" fill="#00beff"/>
<rect x="454.25" y="101.65" width="7.95" height="7.98" fill="#0dffcc"/>
<rect x="461.50" y="101.65" width="7.95" height="7.98" fill="#0000f4"/>
<rect x="468.75" y="101.65" width="7.25" height="7.98" fill="#00beff"/>
<rect x="345.50" y="108.93" width="7.95" height="7.98" fill="#0027ff"/>
<rect x="352.75" y="108.93" width="7.95" height="7.98" fill="#0000f4"/>
<rect x="360.00" y="108.93" width="7.95" height="7.98" fill="#0000f4"/>
<rect x="367.25" y="108.93" width="7.95" height="7.98" fill="#0027ff"/>
<rect x="374.50" y="108.93" width="7.95" height="7.98" fill="#00f0ff"/>
<rect x="381.75" y="108.93" width="7.95" height="7.98" fill="#00beff"/>
<rect x="389.00" y="108.93" width="7.95" height="7.98" fill="#00f0ff"/>
<rect x="396.25" y="108.93" width="7.95" height="7.98" fill="#00f0ff"/>
<rect x="403.50" y="108.93" width="7.95" height="7.98" fill="#00beff"/>
<rect x="410.75" y="108.93" width="7.95" height="7.98" fill="#00beff"/>
<rect x="418.00" y="108.93" width="7.95" height="7.98" fill="#63ff52"/>
<rect x="425.25" y="108.93" width="7.95" height="7.98" fill="#63ff52"/>
<rect x="432.50" y="108.93" width="7.95" height="7.98" fill="#0dffcc"/>
<rect x="439.75" y="108.93" width="7.95" height="7.98" fill="#ff1700"/>
<rect x="447.00" y="108.93" width="7.95" height="7.98" fill="#0dffcc"/>
<rect x="454.25" y="108.93" width="7.95" height="7.98" fill="#0dffcc"/>
<rect x="461.50" y="108.93" width="7.95" height="7.98" fill="#00f0ff"/>
<rect x="468.75" y="108.93" width="7.95" height="7.98" fill="#7fff39"/>
<rect x="476.00" y="108.93" width="7.25" height="7.98" fill="#ffae00"/>
<rect x="345.50" y="116.20" width="7.95" height="7.98" fill="#ff1700"/>
<rect x="352.75" y="116.20" width="7.95" height="7.98" fill="#008bff"/>
<rect x="360.00" y="116.20" width="7.95" height="7.98" fill="#008bff"/>
<rect x="367.25" y="116.20" width="7.95" height="7.98" fill="#008bff"/>
<rect x="374.50" y="116.20" width="7.95" height="7.98" fill="#00beff"/>
<rect x="381.75" y="116.20" width="7.95" height="7.98" fill="#0059ff"/>
<rect x="389.00" y="116.20" width="7.95" height="7.98" fill="#00beff"/>
<rect x="396.25" y="116.20" width="7.95" height="7.98" fill="#00f0ff"/>
<rect x="403.50" y="116.20" width="7.95" height="7.98" fill="#00f0ff"/>
<rect x="410.75" y="116.20" width="7.95" height="7.98" fill="#00f0ff"/>
<rect x="418.00" y="116.20" width="7.95" height="7.98" fill="#00f0ff"/>
<rect x="425.25" y="116.20" width="7.95" height="7.98" fill="#00f0ff"/>
<rect x="432.50" y="116.20" width="7.95" height="7.98" fill="#00f0ff"/>
<rect x="439.75" y="116.20" width="7.95" height="7.98" fill="#63ff52"/>
<rect x="447.00" y="116.20" width="7.95" height="7.98" fill="#00f0ff"/>
<rect x="454.25" y="116.20" width="7.95" height="7.98" fill="#0dffcc"/>
<rect x="461.50" y="116.20" width="7.95" height="7.98" fill="#00f0ff"/>
<rect x="468.75" y="116.20" width="7.95" height="7.28" fill="#ff7c00"/>
<rect x="476.00" y="116.20" width="7.95" height="7.28" fill="#0000f4"/>
<rect x="483.25" y="116.20" width="7.25" height="7.28" fill="#008bff"/>
<rect x="345.50" y="123.47" width="7.95" height="7.98" fill="#00beff"/>
<rect x="352.75" y="123.47" width="7.95" height="7.98" fill="#00f0ff"/>
<rect x="360.00" y="123.47" width="7.95" height="7.28" fill="#0059ff"/>
<rect x="367.25" y="123.47" width="7.95" height="7.28" fill="#008bff"/>
<rect x="374.50" y="123.47" width="7.95" height="7.28" fill="#0000c2"/>
<rect x="381.75" y="123.47" width="7.95" height="7.28" fill="#0059ff"/>
<rect x="389.00" y="123.47" width="7.95" height="7.28" fill="#63ff52"/>
<rect x="396.25" y="123.47" width="7.95" height="7.98" fill="#008bff"/>
<rect x="403.50" y="123.47" width="7.95" height="7.98" fill="#0027ff"/>
<rect x="410.75" y="123.47" width="7.95" height="7.98" fill="#008bff"/>
<rect x="418.00" y="123.47" width="7.95" height="7.98" fill="#0027ff"/>
<rect x="425.25" y="123.47" width="7.95" height="7.98" fill="#0027ff"/>
<rect x="432.50" y="123.47" width="7.95" height="7.98" fill="#0dffcc"/>
<rect x="439.75" y="123.47" width="7.95" height="7.98" fill="#00beff"/>
<rect x="447.00" y="123.47" width="7.95" height="7.98" fill="#00f0ff"/>
<rect x="454.25" y="123.47" width="7.95" height="7.98" fill="#00beff"/>
<rect x="461.50" y="123.47" width="7.25" height="7.28" fill="#008bff"/>
<rect x="331.00" y="130.75" width="7.95" height="7.28" fill="#008bff"/>
<rect x="338.25" y="130.75" width="7.95" height="7.28" fill="#0059ff"/>
<rect x="345.50" y="130.75" width="7.95" height="7.98" fill="#0000f4"/>
<rect x="352.75" y="130.75" width="7.25" height="7.98" fill="#0000c2"/>
<rect x="396.25" y="130.75" width="7.95" height="7.28" fill="#0059ff"/>
<rect x="403.50" y="130.75" width="7.95" height="7.28" fill="#0027ff"/>
<rect x="410.75" y="130.75" width="7.95" height="7.28" fill="#0027ff"/>
<rect x="418.00" y="130.75" width="7.95" height="7.28" fill="#0027ff"/>
<rect x="425.25" y="130.75" width="7.95" height="7.28" fill="#0027ff"/>
<rect x="432.50" y="130.75" width="7.95" height="7.28" fill="#0000c2"/>
<rect x="439.75" y="130.75" width="7.95" height="7.28" fill="#00f0ff"/>
<rect x="447.00" y="130.75" width="7.95" height="7.28" fill="#63ff52"/>
<rect x="454.25" y="130.75" width="7.25" height="7.98" fill="#00beff"/>
<rect x="345.50" y="138.03" width="7.95" height="7.28" fill="#0000c2"/>
<rect x="352.75" y="138.03" width="7.25" height="7.28" fill="#0000c2"/>
<rect x="454.25" y="138.03" width="7.95" height="7.28" fill="#00f0ff"/>
<rect x="461.50" y="138.03" width="7.25" height="7.28" fill="#008bff"/>
<clipPath id="clb"><rect x="316.50" y="46.84" width="217.50" height="98.46"/></clipPath>
<g clip-path="url(#clb)">
<g fill="none" stroke="#f2d8f2" stroke-width="0.5" stroke-opacity="0.8" stroke-linejoin="round"><polyline points="438.1,28.9 435.6,30.8 433.2,33.0 430.6,35.4 428.1,37.4 425.7,39.6 422.8,41.0 420.4,41.5 418.5,40.5 417.0,41.0 414.9,42.7 412.7,44.9 412.4,46.4 409.8,48.1 407.4,49.0 406.9,50.2 408.8,51.5 410.3,53.4 411.7,55.6 412.0,58.0 411.5,59.7 409.8,60.4 407.9,60.9 404.9,61.9 404.2,60.4 404.9,58.5 404.7,56.5 405.7,55.6 404.5,53.9 401.8,53.6 400.6,52.7 401.8,50.7 401.1,49.3 399.4,48.5 396.7,49.0 394.3,50.2 391.9,51.2 392.9,49.5 394.3,47.1 392.9,46.1 390.9,46.6 388.3,48.5 386.1,50.2 383.7,50.5 383.4,52.2 385.4,53.2 386.6,54.8 388.8,54.8 390.9,53.6 392.9,54.4 395.3,54.8 394.8,55.8 392.1,56.5 390.4,57.5 388.8,59.0 387.3,60.4 388.3,61.6 389.7,62.4 390.9,64.8 391.4,66.5 393.4,68.2 393.6,70.1 391.9,71.1 390.4,71.8 392.9,72.5 393.8,73.3 393.1,75.2 392.6,76.9 390.9,78.1 389.7,79.8 388.5,81.3 387.8,83.2 386.3,84.7 384.6,85.9 383.2,87.6 381.3,88.8 379.3,89.8 376.9,90.3 375.2,91.0 373.5,91.2 372.1,92.0 369.7,92.4 367.2,93.2 365.8,93.9 365.8,95.8 364.6,95.8 364.3,93.4 362.4,92.9 360.5,92.9 358.6,93.9 356.9,95.3 355.9,97.0 354.7,98.7 354.9,100.4 356.4,102.1 358.1,104.3 360.0,106.0 361.7,108.0 362.7,110.4 363.1,112.8 363.1,115.0 362.7,117.2 361.0,118.4 359.0,119.6 357.3,120.1 356.9,121.5 355.2,122.5 353.2,124.2 352.5,122.7 352.8,121.1 351.5,120.1 349.6,119.6 348.2,118.1 347.4,116.7 346.0,115.5 344.3,114.5 342.8,114.3 342.8,112.8 341.6,112.6 340.7,113.3 340.7,115.5 339.9,117.4 339.0,119.6 338.7,122.0 340.2,123.0 340.7,124.7 341.4,126.9 342.6,128.6 344.5,128.8 346.0,130.3 347.4,131.7 348.6,133.7 348.9,135.6 348.9,138.0 349.9,139.7 350.8,141.7 349.4,142.1 347.4,140.7 345.3,139.2 343.8,138.0 342.6,135.8 342.1,134.1 341.6,132.2 341.4,130.3 340.2,128.8 339.0,127.4 337.8,126.1 336.6,125.2 336.6,123.0 337.3,120.6 337.5,118.1 337.5,115.7 337.3,113.3 336.1,111.4 335.3,108.9 335.1,106.5 333.9,104.6 332.2,105.0 330.0,106.7 328.1,106.7 326.9,106.0 327.4,103.3 326.9,100.9 325.7,98.7 324.2,96.8 322.8,95.3 321.6,93.6 320.8,91.5 319.4,90.5 317.9,91.0 317.0,92.0 316.5,92.2"/><polyline points="364.8,96.6 367.0,96.8 367.2,97.8 366.0,99.7 364.1,101.2 361.9,100.4 361.4,98.5 362.9,97.0 364.8,96.6"/><polyline points="392.6,83.9 393.8,84.7 392.9,87.1 391.7,90.0 390.9,92.2 389.7,90.5 389.2,88.3 390.4,85.9 392.6,83.9"/><polyline points="404.0,64.5 405.7,64.1 404.9,64.8 404.0,64.5"/><polyline points="415.3,63.1 417.3,63.8 418.0,65.8 416.8,68.7 414.9,70.1 413.6,69.4 413.9,66.5 412.4,65.5 412.7,64.1 415.3,63.1"/><polyline points="419.2,62.9 422.1,62.1 424.3,62.4 424.5,63.3 423.3,64.5 420.4,65.8 419.0,64.5 419.2,62.9"/><polyline points="415.3,62.9 415.6,61.9 418.5,59.7 420.9,59.0 424.0,59.0 426.7,59.0 427.7,57.5 429.4,55.6 430.8,54.4 430.1,56.1 433.0,55.1 435.2,53.2 436.9,50.7 437.3,48.3 437.1,46.6 438.1,45.4 440.2,44.9 441.0,46.8 442.2,49.0 441.2,51.7 439.8,53.2 439.8,55.6 438.8,57.5 439.3,58.7 437.8,60.4 436.9,59.2 435.4,59.7 434.7,61.2 433.0,61.4 430.6,61.4 429.6,60.4 429.1,61.9 427.7,63.8 426.0,63.3 426.0,61.4 424.0,61.2 421.6,61.9 418.7,62.4 415.6,63.0 415.3,62.9"/><polyline points="437.6,44.7 438.1,42.7 436.9,41.8 438.5,40.3 440.7,40.3 441.4,37.4 441.9,35.0 444.6,37.1 447.7,38.6 450.1,37.9 450.9,40.3 448.2,41.1 445.3,43.5 442.2,42.0 439.8,42.2 438.5,43.2 440.0,43.9 437.6,44.7"/><polyline points="442.4,28.9 442.2,31.3 442.4,33.8 444.1,32.1 445.6,33.0 445.1,30.8 444.1,28.9"/><polyline points="390.4,100.4 391.9,100.2 394.1,100.4 394.6,103.1 393.8,105.3 392.9,106.7 392.9,109.2 394.3,111.1 396.2,111.4 398.4,112.1 398.9,113.8 398.4,114.5 397.0,113.0 395.3,112.3 393.4,111.6 391.7,112.1 390.7,111.6 391.2,109.9 389.5,109.4 388.8,107.5 388.8,105.8 390.0,105.0 390.0,102.6 390.4,100.4"/><polyline points="390.0,112.8 391.9,112.8 392.6,114.7 391.7,115.7 390.4,114.3 390.0,112.8"/><polyline points="382.2,124.9 384.2,122.7 386.1,120.6 387.8,119.1 387.3,117.9 385.6,120.1 383.4,122.7 382.2,124.9"/><polyline points="393.8,116.4 396.5,117.4 395.5,119.6 393.8,119.8 393.8,116.4"/><polyline points="396.2,118.9 397.5,119.4 396.7,123.0 395.0,122.0 396.2,118.9"/><polyline points="398.7,118.1 397.5,122.0"/><polyline points="399.4,115.0 401.8,115.2 402.8,118.4 401.6,120.6 400.6,120.8 399.9,117.9 399.4,115.0"/><polyline points="402.3,121.5 404.2,124.7 404.7,127.8 404.0,130.0 402.3,131.5 402.1,128.8 399.1,130.3 398.7,127.4 397.2,126.9 394.1,128.6 394.1,126.4 396.2,124.7 398.2,125.4 400.1,124.0 402.3,121.5"/><polyline points="362.9,145.3 362.4,143.1 362.7,141.4 363.9,140.5 365.6,141.2 367.7,141.9 368.2,139.2 370.1,138.0 372.1,137.3 373.8,135.1 375.7,133.7 377.9,132.0 379.3,130.3 381.0,128.3 382.5,129.3 383.4,130.8 385.6,131.7 387.1,132.7 384.6,134.1 383.4,135.4 383.0,137.3 384.2,140.0 386.1,142.6 384.2,143.1 383.0,145.3"/><polyline points="339.7,145.3 338.5,144.1 337.5,141.2 335.3,139.0 333.2,136.6 330.0,133.9 329.3,131.7 331.7,132.4 334.6,132.7 336.6,134.9 338.2,136.8 340.7,138.8 342.8,140.2 344.8,141.2 346.7,142.9 348.2,144.1 349.6,145.3"/><polyline points="388.5,145.3 389.0,143.4 390.9,142.1 392.9,142.6 395.3,142.9 397.7,143.1 399.9,142.1 401.6,141.4 400.4,143.8 397.7,144.3 394.8,144.1 391.9,144.1 389.7,145.3"/><polyline points="407.1,145.3 407.4,142.9 408.1,140.2 409.8,141.4 408.3,143.8 409.8,144.6 408.8,145.3"/><polyline points="323.5,112.6 323.3,115.5 322.8,117.2"/><polyline points="322.5,119.1 322.5,119.8"/><polyline points="325.7,127.8 325.4,128.6"/><polyline points="408.8,80.3 407.6,82.0"/><polyline points="451.4,37.6 452.6,37.1"/><polyline points="454.2,36.2 456.7,35.0"/></g>
</g>
<rect x="316.10" y="16.40" width="217.90" height="6.20" fill="url(#jet)"/>
<rect x="352.12" y="16.40" width="0.6" height="1.4" fill="#000" fill-opacity="0.55"/>
<rect x="352.12" y="21.60" width="0.6" height="1.0" fill="#000" fill-opacity="0.3"/>
<rect x="388.43" y="16.40" width="0.6" height="1.4" fill="#000" fill-opacity="0.55"/>
<rect x="388.43" y="21.60" width="0.6" height="1.0" fill="#000" fill-opacity="0.3"/>
<rect x="424.75" y="16.40" width="0.6" height="1.4" fill="#000" fill-opacity="0.55"/>
<rect x="424.75" y="21.60" width="0.6" height="1.0" fill="#000" fill-opacity="0.3"/>
<rect x="461.07" y="16.40" width="0.6" height="1.4" fill="#000" fill-opacity="0.55"/>
<rect x="461.07" y="21.60" width="0.6" height="1.0" fill="#000" fill-opacity="0.3"/>
<rect x="497.38" y="16.40" width="0.6" height="1.4" fill="#000" fill-opacity="0.55"/>
<rect x="497.38" y="21.60" width="0.6" height="1.0" fill="#000" fill-opacity="0.3"/>
<text x="316.10" y="11.70" font-size="9.6" text-anchor="middle">0kt</text>
<text x="352.42" y="11.70" font-size="9.6" text-anchor="middle">5kt</text>
<text x="388.73" y="11.70" font-size="9.6" text-anchor="middle">10kt</text>
<text x="425.05" y="11.70" font-size="9.6" text-anchor="middle">15kt</text>
<text x="461.37" y="11.70" font-size="9.6" text-anchor="middle">20kt</text>
<text x="497.68" y="11.70" font-size="9.6" text-anchor="middle">25kt</text>
<text x="534.00" y="11.70" font-size="9.6" text-anchor="middle">30kt</text>
<text x="313.20" y="149.20" font-size="10.6" text-anchor="end">0°N</text>
<text x="313.20" y="112.83" font-size="10.6" text-anchor="end">15°N</text>
<text x="313.20" y="76.45" font-size="10.6" text-anchor="end">30°N</text>
<text x="313.20" y="40.07" font-size="10.6" text-anchor="end">45°N</text>
<text x="316.50" y="158.60" font-size="10.6" text-anchor="middle">90°E</text>
<text x="389.00" y="158.60" font-size="10.6" text-anchor="middle">120°E</text>
<text x="461.50" y="158.60" font-size="10.6" text-anchor="middle">150°E</text>
<text x="534.00" y="158.60" font-size="10.6" text-anchor="middle">180°E</text>
<text x="424.25" y="170.10" font-size="10.3" text-anchor="middle">Longitude</text>
<text transform="translate(287.30 86.60) rotate(-90)" font-size="10.8" text-anchor="middle">Latitude</text>
<text x="278.10" y="22.90" font-size="12.6" text-anchor="start">(b)</text>
</g>
<g>
<rect x="43.10" y="213.00" width="217.95" height="116.30" fill="#00008f"/>
<rect x="123.01" y="220.27" width="7.96" height="7.97" fill="#00beff"/>
<rect x="130.28" y="220.27" width="7.26" height="7.27" fill="#008bff"/>
<rect x="123.01" y="227.54" width="7.26" height="7.97" fill="#00beff"/>
<rect x="144.81" y="227.54" width="7.26" height="7.97" fill="#0000f4"/>
<rect x="181.13" y="227.54" width="7.26" height="7.97" fill="#0027ff"/>
<rect x="115.75" y="234.81" width="7.96" height="7.97" fill="#0000f4"/>
<rect x="123.01" y="234.81" width="7.96" height="7.97" fill="#00beff"/>
<rect x="130.28" y="234.81" width="7.96" height="7.97" fill="#0000c2"/>
<rect x="137.54" y="234.81" width="7.96" height="7.97" fill="#0000f4"/>
<rect x="144.81" y="234.81" width="7.96" height="7.97" fill="#0000f4"/>
<rect x="152.07" y="234.81" width="7.96" height="7.97" fill="#0000f4"/>
<rect x="159.34" y="234.81" width="7.96" height="7.97" fill="#0000f4"/>
<rect x="166.60" y="234.81" width="7.96" height="7.97" fill="#0027ff"/>
<rect x="173.87" y="234.81" width="7.96" height="7.97" fill="#0027ff"/>
<rect x="181.13" y="234.81" width="7.96" height="7.97" fill="#0059ff"/>
<rect x="188.40" y="234.81" width="7.26" height="7.97" fill="#0059ff"/>
<rect x="101.22" y="242.07" width="7.96" height="7.97" fill="#0059ff"/>
<rect x="108.48" y="242.07" width="7.96" height="7.97" fill="#0000f4"/>
<rect x="115.75" y="242.07" width="7.96" height="7.97" fill="#0000f4"/>
<rect x="123.01" y="242.07" width="7.96" height="7.97" fill="#00f0ff"/>
<rect x="130.28" y="242.07" width="7.96" height="7.97" fill="#0027ff"/>
<rect x="137.54" y="242.07" width="7.96" height="7.97" fill="#0000f4"/>
<rect x="144.81" y="242.07" width="7.96" height="7.97" fill="#0000f4"/>
<rect x="152.07" y="242.07" width="7.96" height="7.97" fill="#0000f4"/>
<rect x="159.34" y="242.07" width="7.96" height="7.97" fill="#0000f4"/>
<rect x="166.60" y="242.07" width="7.96" height="7.97" fill="#0059ff"/>
<rect x="173.87" y="242.07" width="7.96" height="7.97" fill="#0000f4"/>
<rect x="181.13" y="242.07" width="7.96" height="7.27" fill="#0000c2"/>
<rect x="188.40" y="242.07" width="7.96" height="7.97" fill="#0059ff"/>
<rect x="195.66" y="242.07" width="7.26" height="7.97" fill="#0027ff"/>
<rect x="101.22" y="249.34" width="7.96" height="7.97" fill="#00beff"/>
<rect x="108.48" y="249.34" width="7.96" height="7.97" fill="#0000f4"/>
<rect x="115.75" y="249.34" width="7.96" height="7.97" fill="#0027ff"/>
<rect x="123.01" y="249.34" width="7.96" height="7.97" fill="#0027ff"/>
<rect x="130.28" y="249.34" width="7.96" height="7.97" fill="#0027ff"/>
<rect x="137.54" y="249.34" width="7.96" height="7.97" fill="#008bff"/>
<rect x="144.81" y="249.34" width="7.96" height="7.97" fill="#008bff"/>
<rect x="152.07" y="249.34" width="7.96" height="7.97" fill="#0059ff"/>
<rect x="159.34" y="249.34" width="7.96" height="7.97" fill="#00f0ff"/>
<rect x="166.60" y="249.34" width="7.96" height="7.97" fill="#0000f4"/>
<rect x="173.87" y="249.34" width="7.26" height="7.27" fill="#0027ff"/>
<rect x="188.40" y="249.34" width="7.96" height="7.27" fill="#0000c2"/>
<rect x="195.66" y="249.34" width="7.26" height="7.97" fill="#0000f4"/>
<rect x="93.95" y="256.61" width="7.96" height="7.97" fill="#00beff"/>
<rect x="101.22" y="256.61" width="7.96" height="7.97" fill="#31ff8a"/>
<rect x="108.48" y="256.61" width="7.96" height="7.97" fill="#008bff"/>
<rect x="115.75" y="256.61" width="7.96" height="7.97" fill="#0027ff"/>
<rect x="123.01" y="256.61" width="7.96" height="7.97" fill="#0000f4"/>
<rect x="130.28" y="256.61" width="7.96" height="7.97" fill="#0027ff"/>
<rect x="137.54" y="256.61" width="7.96" height="7.97" fill="#0059ff"/>
<rect x="144.81" y="256.61" width="7.96" height="7.97" fill="#0027ff"/>
<rect x="152.07" y="256.61" width="7.96" height="7.97" fill="#00f0ff"/>
<rect x="159.34" y="256.61" width="7.96" height="7.97" fill="#008bff"/>
<rect x="166.60" y="256.61" width="7.26" height="7.97" fill="#00beff"/>
<rect x="195.66" y="256.61" width="7.96" height="7.97" fill="#0000f4"/>
<rect x="202.93" y="256.61" width="7.26" height="7.97" fill="#0059ff"/>
<rect x="93.95" y="263.88" width="7.96" height="7.97" fill="#0000f4"/>
<rect x="101.22" y="263.88" width="7.96" height="7.97" fill="#00f0ff"/>
<rect x="108.48" y="263.88" width="7.96" height="7.97" fill="#0027ff"/>
<rect x="115.75" y="263.88" width="7.96" height="7.97" fill="#0027ff"/>
<rect x="123.01" y="263.88" width="7.96" height="7.97" fill="#0059ff"/>
<rect x="130.28" y="263.88" width="7.96" height="7.97" fill="#0027ff"/>
<rect x="137.54" y="263.88" width="7.96" height="7.97" fill="#0059ff"/>
<rect x="144.81" y="263.88" width="7.96" height="7.97" fill="#0059ff"/>
<rect x="152.07" y="263.88" width="7.96" height="7.97" fill="#0027ff"/>
<rect x="159.34" y="263.88" width="7.96" height="7.97" fill="#0027ff"/>
<rect x="166.60" y="263.88" width="7.96" height="7.97" fill="#0027ff"/>
<rect x="173.87" y="263.88" width="7.26" height="7.97" fill="#0000c2"/>
<rect x="188.40" y="263.88" width="7.96" height="7.97" fill="#00beff"/>
<rect x="195.66" y="263.88" width="7.96" height="7.97" fill="#0000f4"/>
<rect x="202.93" y="263.88" width="7.26" height="7.27" fill="#0059ff"/>
<rect x="224.72" y="263.88" width="7.96" height="7.27" fill="#0059ff"/>
<rect x="231.99" y="263.88" width="7.96" height="7.27" fill="#0059ff"/>
<rect x="239.25" y="263.88" width="7.26" height="7.97" fill="#0027ff"/>
<rect x="86.69" y="271.15" width="7.96" height="7.97" fill="#008bff"/>
<rect x="93.95" y="271.15" width="7.96" height="7.97" fill="#008bff"/>
<rect x="101.22" y="271.15" width="7.96" height="7.97" fill="#0027ff"/>
<rect x="108.48" y="271.15" width="7.96" height="7.97" fill="#0027ff"/>
<rect x="115.75" y="271.15" width="7.96" height="7.97" fill="#0027ff"/>
<rect x="123.01" y="271.15" width="7.96" height="7.97" fill="#0059ff"/>
<rect x="130.28" y="271.15" width="7.96" height="7.97" fill="#008bff"/>
<rect x="137.54" y="271.15" width="7.96" height="7.97" fill="#0027ff"/>
<rect x="144.81" y="271.15" width="7.96" height="7.97" fill="#0027ff"/>
<rect x="152.07" y="271.15" width="7.96" height="7.97" fill="#0027ff"/>
<rect x="159.34" y="271.15" width="7.96" height="7.97" fill="#0027ff"/>
<rect x="166.60" y="271.15" width="7.96" height="7.97" fill="#0027ff"/>
<rect x="173.87" y="271.15" width="7.96" height="7.97" fill="#0027ff"/>
<rect x="181.13" y="271.15" width="7.96" height="7.97" fill="#00beff"/>
<rect x="188.40" y="271.15" width="7.96" height="7.97" fill="#00f0ff"/>
<rect x="195.66" y="271.15" width="7.26" height="7.27" fill="#00f0ff"/>
<rect x="239.25" y="271.15" width="7.26" height="7.27" fill="#0000f4"/>
<rect x="72.16" y="278.42" width="7.96" height="7.97" fill="#00beff"/>
<rect x="79.42" y="278.42" width="7.96" height="7.97" fill="#008bff"/>
<rect x="86.69" y="278.42" width="7.96" height="7.97" fill="#0027ff"/>
<rect x="93.95" y="278.42" width="7.96" height="7.97" fill="#0000f4"/>
<rect x="101.22" y="278.42" width="7.96" height="7.97" fill="#9eff24"/>
<rect x="108.48" y="278.42" width="7.96" height="7.97" fill="#00f0ff"/>
<rect x="115.75" y="278.42" width="7.96" height="7.97" fill="#008bff"/>
<rect x="123.01" y="278.42" width="7.96" height="7.97" fill="#0059ff"/>
<rect x="130.28" y="278.42" width="7.96" height="7.97" fill="#0027ff"/>
<rect x="137.54" y="278.42" width="7.96" height="7.97" fill="#0027ff"/>
<rect x="144.81" y="278.42" width="7.96" height="7.97" fill="#00beff"/>
<rect x="152.07" y="278.42" width="7.96" height="7.97" fill="#0059ff"/>
<rect x="159.34" y="278.42" width="7.96" height="7.97" fill="#0027ff"/>
<rect x="166.60" y="278.42" width="7.96" height="7.97" fill="#008bff"/>
<rect x="173.87" y="278.42" width="7.96" height="7.97" fill="#008bff"/>
<rect x="181.13" y="278.42" width="7.96" height="7.97" fill="#008bff"/>
<rect x="188.40" y="278.42" width="7.26" height="7.97" fill="#0027ff"/>
<rect x="64.89" y="285.69" width="7.96" height="7.27" fill="#00beff"/>
<rect x="72.16" y="285.69" width="7.96" height="7.97" fill="#0027ff"/>
<rect x="79.42" y="285.69" width="7.96" height="7.97" fill="#008bff"/>
<rect x="86.69" y="285.69" width="7.96" height="7.97" fill="#008bff"/>
<rect x="93.95" y="285.69" width="7.96" height="7.97" fill="#008bff"/>
<rect x="101.22" y="285.69" width="7.96" height="7.97" fill="#49ff6d"/>
<rect x="108.48" y="285.69" width="7.96" height="7.97" fill="#0027ff"/>
<rect x="115.75" y="285.69" width="7.96" height="7.97" fill="#0059ff"/>
<rect x="123.01" y="285.69" width="7.96" height="7.97" fill="#00beff"/>
<rect x="130.28" y="285.69" width="7.96" height="7.97" fill="#008bff"/>
<rect x="137.54" y="285.69" width="7.96" height="7.97" fill="#0027ff"/>
<rect x="144.81" y="285.69" width="7.96" height="7.97" fill="#0027ff"/>
<rect x="152.07" y="285.69" width="7.96" height="7.97" fill="#0027ff"/>
<rect x="159.34" y="285.69" width="7.96" height="7.97" fill="#0059ff"/>
<rect x="166.60" y="285.69" width="7.96" height="7.97" fill="#008bff"/>
<rect x="173.87" y="285.69" width="7.96" height="7.97" fill="#008bff"/>
<rect x="181.13" y="285.69" width="7.96" height="7.97" fill="#008bff"/>
<rect x="188.40" y="285.69" width="7.96" height="7.97" fill="#0000f4"/>
<rect x="195.66" y="285.69" width="7.26" height="7.97" fill="#0000f4"/>
<rect x="72.16" y="292.96" width="7.96" height="7.97" fill="#0059ff"/>
<rect x="79.42" y="292.96" width="7.96" height="7.97" fill="#0000f4"/>
<rect x="86.69" y="292.96" width="7.96" height="7.97" fill="#0000f4"/>
<rect x="93.95" y="292.96" width="7.96" height="7.97" fill="#0000f4"/>
<rect x="101.22" y="292.96" width="7.96" height="7.97" fill="#008bff"/>
<rect x="108.48" y="292.96" width="7.96" height="7.97" fill="#0027ff"/>
<rect x="115.75" y="292.96" width="7.96" height="7.97" fill="#00f0ff"/>
<rect x="123.01" y="292.96" width="7.96" height="7.97" fill="#00beff"/>
<rect x="130.28" y="292.96" width="7.96" height="7.97" fill="#008bff"/>
<rect x="137.54" y="292.96" width="7.96" height="7.97" fill="#0027ff"/>
<rect x="144.81" y="292.96" width="7.96" height="7.97" fill="#0059ff"/>
<rect x="152.07" y="292.96" width="7.96" height="7.97" fill="#008bff"/>
<rect x="159.34" y="292.96" width="7.96" height="7.97" fill="#0059ff"/>
<rect x="166.60" y="292.96" width="7.96" height="7.97" fill="#00beff"/>
<rect x="173.87" y="292.96" width="7.96" height="7.97" fill="#008bff"/>
<rect x="181.13" y="292.96" width="7.96" height="7.97" fill="#0059ff"/>
<rect x="188.40" y="292.96" width="7.96" height="7.97" fill="#0059ff"/>
<rect x="195.66" y="292.96" width="7.96" height="7.97" fill="#008bff"/>
<rect x="202.93" y="292.96" width="7.26" height="7.97" fill="#0059ff"/>
<rect x="72.16" y="300.23" width="7.96" height="7.97" fill="#c0ff12"/>
<rect x="79.42" y="300.23" width="7.96" height="7.97" fill="#00beff"/>
<rect x="86.69" y="300.23" width="7.96" height="7.97" fill="#00beff"/>
<rect x="93.95" y="300.23" width="7.96" height="7.97" fill="#0059ff"/>
<rect x="101.22" y="300.23" width="7.96" height="7.27" fill="#008bff"/>
<rect x="108.48" y="300.23" width="7.96" height="7.97" fill="#0000f4"/>
<rect x="115.75" y="300.23" width="7.96" height="7.97" fill="#0000f4"/>
<rect x="123.01" y="300.23" width="7.96" height="7.97" fill="#0027ff"/>
<rect x="130.28" y="300.23" width="7.96" height="7.97" fill="#0027ff"/>
<rect x="137.54" y="300.23" width="7.96" height="7.97" fill="#00beff"/>
<rect x="144.81" y="300.23" width="7.96" height="7.97" fill="#0027ff"/>
<rect x="152.07" y="300.23" width="7.96" height="7.97" fill="#0059ff"/>
<rect x="159.34" y="300.23" width="7.96" height="7.97" fill="#0027ff"/>
<rect x="166.60" y="300.23" width="7.96" height="7.97" fill="#008bff"/>
<rect x="173.87" y="300.23" width="7.96" height="7.97" fill="#0000f4"/>
<rect x="181.13" y="300.23" width="7.96" height="7.97" fill="#00beff"/>
<rect x="188.40" y="300.23" width="7.96" height="7.97" fill="#00beff"/>
<rect x="195.66" y="300.23" width="7.96" height="7.27" fill="#ff7c00"/>
<rect x="202.93" y="300.23" width="7.96" height="7.27" fill="#0000f4"/>
<rect x="210.19" y="300.23" width="7.26" height="7.27" fill="#008bff"/>
<rect x="72.16" y="307.49" width="7.96" height="7.97" fill="#0059ff"/>
<rect x="79.42" y="307.49" width="7.96" height="7.97" fill="#008bff"/>
<rect x="86.69" y="307.49" width="7.96" height="7.27" fill="#0059ff"/>
<rect x="93.95" y="307.49" width="7.26" height="7.27" fill="#0059ff"/>
<rect x="108.48" y="307.49" width="7.96" height="7.27" fill="#00beff"/>
<rect x="115.75" y="307.49" width="7.96" height="7.27" fill="#0027ff"/>
<rect x="123.01" y="307.49" width="7.96" height="7.97" fill="#0027ff"/>
<rect x="130.28" y="307.49" width="7.96" height="7.97" fill="#0027ff"/>
<rect x="137.54" y="307.49" width="7.96" height="7.97" fill="#00f0ff"/>
<rect x="144.81" y="307.49" width="7.96" height="7.97" fill="#0027ff"/>
<rect x="152.07" y="307.49" width="7.96" height="7.97" fill="#0027ff"/>
<rect x="159.34" y="307.49" width="7.96" height="7.97" fill="#008bff"/>
<rect x="166.60" y="307.49" width="7.96" height="7.97" fill="#008bff"/>
<rect x="173.87" y="307.49" width="7.96" height="7.97" fill="#008bff"/>
<rect x="181.13" y="307.49" width="7.96" height="7.97" fill="#0dffcc"/>
<rect x="188.40" y="307.49" width="7.26" height="7.27" fill="#008bff"/>
<rect x="57.63" y="314.76" width="7.96" height="7.27" fill="#31ff8a"/>
<rect x="64.89" y="314.76" width="7.96" height="7.97" fill="#00beff"/>
<rect x="72.16" y="314.76" width="7.96" height="7.97" fill="#0000f4"/>
<rect x="79.42" y="314.76" width="7.26" height="7.97" fill="#0000f4"/>
<rect x="123.01" y="314.76" width="7.96" height="7.27" fill="#0059ff"/>
<rect x="130.28" y="314.76" width="7.96" height="7.27" fill="#0027ff"/>
<rect x="137.54" y="314.76" width="7.96" height="7.27" fill="#0059ff"/>
<rect x="144.81" y="314.76" width="7.96" height="7.27" fill="#0027ff"/>
<rect x="152.07" y="314.76" width="7.96" height="7.27" fill="#0027ff"/>
<rect x="159.34" y="314.76" width="7.96" height="7.27" fill="#0000c2"/>
<rect x="166.60" y="314.76" width="7.96" height="7.27" fill="#31ff8a"/>
<rect x="173.87" y="314.76" width="7.96" height="7.27" fill="#0059ff"/>
<rect x="181.13" y="314.76" width="7.26" height="7.97" fill="#00beff"/>
<rect x="64.89" y="322.03" width="7.96" height="7.27" fill="#0000c2"/>
<rect x="72.16" y="322.03" width="7.96" height="7.27" fill="#0000f4"/>
<rect x="79.42" y="322.03" width="7.26" height="7.27" fill="#0000f4"/>
<rect x="181.13" y="322.03" width="7.96" height="7.27" fill="#00beff"/>
<rect x="188.40" y="322.03" width="7.26" height="7.27" fill="#0027ff"/>
<clipPath id="clc"><rect x="43.10" y="217.85" width="217.95" height="111.45"/></clipPath>
<g clip-path="url(#clc)">
<g fill="none" stroke="#f2d4f2" stroke-width="0.5" stroke-opacity="0.8" stroke-linejoin="round"><polyline points="164.9,213.0 162.5,214.9 160.1,217.1 157.4,219.5 155.0,221.5 152.6,223.7 149.7,225.1 147.2,225.6 145.3,224.6 143.8,225.1 141.7,226.8 139.5,229.0 139.2,230.4 136.6,232.1 134.2,233.1 133.7,234.3 135.6,235.5 137.1,237.5 138.5,239.7 138.8,242.1 138.3,243.8 136.6,244.5 134.6,245.0 131.7,246.0 131.0,244.5 131.7,242.6 131.5,240.6 132.5,239.7 131.2,238.0 128.6,237.7 127.4,236.7 128.6,234.8 127.9,233.4 126.2,232.6 123.5,233.1 121.1,234.3 118.7,235.3 119.6,233.6 121.1,231.2 119.6,230.2 117.7,230.7 115.0,232.6 112.8,234.3 110.4,234.6 110.2,236.3 112.1,237.2 113.3,238.9 115.5,238.9 117.7,237.7 119.6,238.4 122.0,238.9 121.6,239.9 118.9,240.6 117.2,241.6 115.5,243.0 114.1,244.5 115.0,245.7 116.5,246.4 117.7,248.9 118.2,250.6 120.1,252.3 120.4,254.2 118.7,255.2 117.2,255.9 119.6,256.6 120.6,257.3 119.9,259.3 119.4,261.0 117.7,262.2 116.5,263.9 115.3,265.3 114.5,267.3 113.1,268.7 111.4,269.9 109.9,271.6 108.0,272.8 106.1,273.8 103.6,274.3 101.9,275.0 100.3,275.3 98.8,276.0 96.4,276.5 94.0,277.2 92.5,277.9 92.5,279.9 91.3,279.9 91.0,277.4 89.1,277.0 87.2,277.0 85.2,277.9 83.5,279.4 82.6,281.1 81.4,282.8 81.6,284.5 83.1,286.2 84.8,288.4 86.7,290.0 88.4,292.0 89.4,294.4 89.8,296.8 89.8,299.0 89.4,301.2 87.7,302.4 85.7,303.6 84.0,304.1 83.5,305.6 81.8,306.5 79.9,308.2 79.2,306.8 79.4,305.1 78.2,304.1 76.3,303.6 74.8,302.2 74.1,300.7 72.6,299.5 70.9,298.5 69.5,298.3 69.5,296.8 68.3,296.6 67.3,297.3 67.3,299.5 66.6,301.4 65.6,303.6 65.4,306.0 66.8,307.0 67.3,308.7 68.0,310.9 69.3,312.6 71.2,312.8 72.6,314.3 74.1,315.7 75.3,317.7 75.6,319.6 75.6,322.0 76.5,323.7 77.5,325.7 76.0,326.2 74.1,324.7 71.9,323.2 70.5,322.0 69.3,319.9 68.8,318.2 68.3,316.2 68.0,314.3 66.8,312.8 65.6,311.4 64.4,310.2 63.2,309.2 63.2,307.0 63.9,304.6 64.2,302.2 64.2,299.7 63.9,297.3 62.7,295.4 62.0,293.0 61.7,290.5 60.5,288.6 58.8,289.1 56.7,290.8 54.7,290.8 53.5,290.0 54.0,287.4 53.5,285.0 52.3,282.8 50.8,280.8 49.4,279.4 48.2,277.7 47.5,275.5 46.0,274.5 44.6,275.0 43.6,276.0 43.1,276.2"/><polyline points="91.5,280.6 93.7,280.8 94.0,281.8 92.7,283.7 90.8,285.2 88.6,284.5 88.1,282.5 89.6,281.1 91.5,280.6"/><polyline points="119.4,268.0 120.6,268.7 119.6,271.2 118.4,274.1 117.7,276.2 116.5,274.5 116.0,272.4 117.2,269.9 119.4,268.0"/><polyline points="130.8,248.6 132.5,248.1 131.7,248.9 130.8,248.6"/><polyline points="142.1,247.2 144.1,247.9 144.8,249.8 143.6,252.7 141.7,254.2 140.5,253.5 140.7,250.6 139.2,249.6 139.5,248.1 142.1,247.2"/><polyline points="146.0,246.9 148.9,246.2 151.1,246.4 151.3,247.4 150.1,248.6 147.2,249.8 145.8,248.6 146.0,246.9"/><polyline points="142.1,246.9 142.4,246.0 145.3,243.8 147.7,243.0 150.9,243.0 153.5,243.0 154.5,241.6 156.2,239.7 157.6,238.4 156.9,240.1 159.8,239.2 162.0,237.2 163.7,234.8 164.2,232.4 163.9,230.7 164.9,229.5 167.1,229.0 167.8,230.9 169.0,233.1 168.1,235.8 166.6,237.2 166.6,239.7 165.6,241.6 166.1,242.8 164.7,244.5 163.7,243.3 162.2,243.8 161.5,245.2 159.8,245.5 157.4,245.5 156.4,244.5 155.9,246.0 154.5,247.9 152.8,247.4 152.8,245.5 150.9,245.2 148.4,246.0 145.5,246.4 142.4,247.0 142.1,246.9"/><polyline points="164.4,228.7 164.9,226.8 163.7,225.8 165.4,224.4 167.6,224.4 168.3,221.5 168.8,219.1 171.4,221.2 174.6,222.7 177.0,222.0 177.7,224.4 175.1,225.2 172.2,227.5 169.0,226.1 166.6,226.3 165.4,227.3 166.8,228.0 164.4,228.7"/><polyline points="169.3,213.0 169.0,215.4 169.3,217.8 171.0,216.1 172.4,217.1 171.9,214.9 171.0,213.0"/><polyline points="117.2,284.5 118.7,284.2 120.8,284.5 121.3,287.1 120.6,289.3 119.6,290.8 119.6,293.2 121.1,295.1 123.0,295.4 125.2,296.1 125.7,297.8 125.2,298.5 123.7,297.1 122.0,296.3 120.1,295.6 118.4,296.1 117.4,295.6 117.9,293.9 116.2,293.4 115.5,291.5 115.5,289.8 116.7,289.1 116.7,286.7 117.2,284.5"/><polyline points="116.7,296.8 118.7,296.8 119.4,298.8 118.4,299.7 117.2,298.3 116.7,296.8"/><polyline points="109.0,308.9 110.9,306.8 112.8,304.6 114.5,303.1 114.1,301.9 112.4,304.1 110.2,306.8 109.0,308.9"/><polyline points="120.6,300.5 123.3,301.4 122.3,303.6 120.6,303.9 120.6,300.5"/><polyline points="123.0,302.9 124.2,303.4 123.5,307.0 121.8,306.0 123.0,302.9"/><polyline points="125.4,302.2 124.2,306.0"/><polyline points="126.2,299.0 128.6,299.3 129.6,302.4 128.3,304.6 127.4,304.8 126.6,301.9 126.2,299.0"/><polyline points="129.1,305.6 131.0,308.7 131.5,311.9 130.8,314.0 129.1,315.5 128.8,312.8 125.9,314.3 125.4,311.4 124.0,310.9 120.8,312.6 120.8,310.4 123.0,308.7 125.0,309.4 126.9,308.0 129.1,305.6"/><polyline points="89.6,329.3 89.1,327.1 89.4,325.4 90.6,324.5 92.3,325.2 94.4,325.9 94.9,323.2 96.9,322.0 98.8,321.3 100.5,319.1 102.4,317.7 104.6,316.0 106.1,314.3 107.8,312.3 109.2,313.3 110.2,314.8 112.4,315.7 113.8,316.7 111.4,318.2 110.2,319.4 109.7,321.3 110.9,324.0 112.8,326.6 110.9,327.1 109.7,329.3"/><polyline points="66.3,329.3 65.1,328.1 64.2,325.2 62.0,323.0 59.8,320.6 56.7,317.9 55.9,315.7 58.4,316.5 61.3,316.7 63.2,318.9 64.9,320.8 67.3,322.8 69.5,324.2 71.4,325.2 73.4,326.9 74.8,328.1 76.3,329.3"/><polyline points="115.3,329.3 115.8,327.4 117.7,326.2 119.6,326.6 122.0,326.9 124.5,327.1 126.6,326.2 128.3,325.4 127.1,327.8 124.5,328.3 121.6,328.1 118.7,328.1 116.5,329.3"/><polyline points="133.9,329.3 134.2,326.9 134.9,324.2 136.6,325.4 135.1,327.8 136.6,328.6 135.6,329.3"/><polyline points="50.1,296.6 49.9,299.5 49.4,301.2"/><polyline points="49.2,303.1 49.2,303.9"/><polyline points="52.3,311.9 52.1,312.6"/><polyline points="135.6,264.4 134.4,266.1"/><polyline points="178.2,221.7 179.4,221.2"/><polyline points="181.1,220.3 183.6,219.1"/></g>
</g>
<rect x="44.10" y="198.50" width="216.90" height="7.20" fill="url(#jet)"/>
<rect x="70.91" y="198.50" width="0.6" height="1.4" fill="#000" fill-opacity="0.55"/>
<rect x="70.91" y="204.70" width="0.6" height="1.0" fill="#000" fill-opacity="0.3"/>
<rect x="98.03" y="198.50" width="0.6" height="1.4" fill="#000" fill-opacity="0.55"/>
<rect x="98.03" y="204.70" width="0.6" height="1.0" fill="#000" fill-opacity="0.3"/>
<rect x="125.14" y="198.50" width="0.6" height="1.4" fill="#000" fill-opacity="0.55"/>
<rect x="125.14" y="204.70" width="0.6" height="1.0" fill="#000" fill-opacity="0.3"/>
<rect x="152.25" y="198.50" width="0.6" height="1.4" fill="#000" fill-opacity="0.55"/>
<rect x="152.25" y="204.70" width="0.6" height="1.0" fill="#000" fill-opacity="0.3"/>
<rect x="179.36" y="198.50" width="0.6" height="1.4" fill="#000" fill-opacity="0.55"/>
<rect x="179.36" y="204.70" width="0.6" height="1.0" fill="#000" fill-opacity="0.3"/>
<rect x="206.47" y="198.50" width="0.6" height="1.4" fill="#000" fill-opacity="0.55"/>
<rect x="206.47" y="204.70" width="0.6" height="1.0" fill="#000" fill-opacity="0.3"/>
<rect x="233.59" y="198.50" width="0.6" height="1.4" fill="#000" fill-opacity="0.55"/>
<rect x="233.59" y="204.70" width="0.6" height="1.0" fill="#000" fill-opacity="0.3"/>
<text transform="translate(43.30 193.70) rotate(-30)" x="0" y="0" font-size="9.3" text-anchor="start">0%</text>
<text transform="translate(70.41 193.70) rotate(-30)" x="0" y="0" font-size="9.3" text-anchor="start">10%</text>
<text transform="translate(97.53 193.70) rotate(-30)" x="0" y="0" font-size="9.3" text-anchor="start">20%</text>
<text transform="translate(124.64 193.70) rotate(-30)" x="0" y="0" font-size="9.3" text-anchor="start">30%</text>
<text transform="translate(151.75 193.70) rotate(-30)" x="0" y="0" font-size="9.3" text-anchor="start">40%</text>
<text transform="translate(178.86 193.70) rotate(-30)" x="0" y="0" font-size="9.3" text-anchor="start">50%</text>
<text transform="translate(205.97 193.70) rotate(-30)" x="0" y="0" font-size="9.3" text-anchor="start">60%</text>
<text transform="translate(233.09 193.70) rotate(-30)" x="0" y="0" font-size="9.3" text-anchor="start">70%</text>
<text transform="translate(260.20 193.70) rotate(-30)" x="0" y="0" font-size="9.3" text-anchor="start">80%</text>
<text x="39.80" y="333.20" font-size="10.6" text-anchor="end">0°N</text>
<text x="39.80" y="296.86" font-size="10.6" text-anchor="end">15°N</text>
<text x="39.80" y="260.51" font-size="10.6" text-anchor="end">30°N</text>
<text x="39.80" y="224.17" font-size="10.6" text-anchor="end">45°N</text>
<text x="43.10" y="342.60" font-size="10.6" text-anchor="middle">90°E</text>
<text x="115.75" y="342.60" font-size="10.6" text-anchor="middle">120°E</text>
<text x="188.40" y="342.60" font-size="10.6" text-anchor="middle">150°E</text>
<text x="261.05" y="342.60" font-size="10.6" text-anchor="middle">180°E</text>
<text x="151.07" y="354.10" font-size="10.3" text-anchor="middle">Longitude</text>
<text transform="translate(13.90 270.65) rotate(-90)" font-size="10.8" text-anchor="middle">Latitude</text>
<text x="4.70" y="207.00" font-size="12.6" text-anchor="start">(c)</text>
</g>
<g>
<rect x="317.10" y="214.30" width="217.40" height="116.40" fill="#00008f"/>
<rect x="396.81" y="221.58" width="7.95" height="7.98" fill="#00beff"/>
<rect x="404.06" y="221.58" width="7.25" height="7.28" fill="#008bff"/>
<rect x="396.81" y="228.85" width="7.25" height="7.98" fill="#00beff"/>
<rect x="418.55" y="228.85" width="7.95" height="7.98" fill="#0000f4"/>
<rect x="425.80" y="228.85" width="7.25" height="7.98" fill="#0027ff"/>
<rect x="454.79" y="228.85" width="7.25" height="7.98" fill="#0000f4"/>
<rect x="389.57" y="236.12" width="7.95" height="7.98" fill="#0000f4"/>
<rect x="396.81" y="236.12" width="7.95" height="7.98" fill="#008bff"/>
<rect x="404.06" y="236.12" width="7.95" height="7.98" fill="#0000c2"/>
<rect x="411.31" y="236.12" width="7.95" height="7.98" fill="#0000f4"/>
<rect x="418.55" y="236.12" width="7.95" height="7.98" fill="#0000f4"/>
<rect x="425.80" y="236.12" width="7.95" height="7.98" fill="#0000f4"/>
<rect x="433.05" y="236.12" width="7.95" height="7.98" fill="#0027ff"/>
<rect x="440.29" y="236.12" width="7.95" height="7.98" fill="#0000f4"/>
<rect x="447.54" y="236.12" width="7.95" height="7.98" fill="#008bff"/>
<rect x="454.79" y="236.12" width="7.95" height="7.98" fill="#0027ff"/>
<rect x="462.03" y="236.12" width="7.25" height="7.98" fill="#008bff"/>
<rect x="375.07" y="243.40" width="7.95" height="7.98" fill="#0027ff"/>
<rect x="382.32" y="243.40" width="7.95" height="7.98" fill="#0000c2"/>
<rect x="389.57" y="243.40" width="7.95" height="7.98" fill="#0000f4"/>
<rect x="396.81" y="243.40" width="7.95" height="7.98" fill="#00beff"/>
<rect x="404.06" y="243.40" width="7.95" height="7.98" fill="#008bff"/>
<rect x="411.31" y="243.40" width="7.95" height="7.98" fill="#0000f4"/>
<rect x="418.55" y="243.40" width="7.95" height="7.98" fill="#0000f4"/>
<rect x="425.80" y="243.40" width="7.95" height="7.98" fill="#0000f4"/>
<rect x="433.05" y="243.40" width="7.95" height="7.98" fill="#0000f4"/>
<rect x="440.29" y="243.40" width="7.95" height="7.98" fill="#0027ff"/>
<rect x="447.54" y="243.40" width="7.95" height="7.98" fill="#008bff"/>
<rect x="454.79" y="243.40" width="7.95" height="7.28" fill="#0000c2"/>
<rect x="462.03" y="243.40" width="7.95" height="7.98" fill="#00f0ff"/>
<rect x="469.28" y="243.40" width="7.25" height="7.98" fill="#00f0ff"/>
<rect x="375.07" y="250.68" width="7.95" height="7.98" fill="#008bff"/>
<rect x="382.32" y="250.68" width="7.95" height="7.98" fill="#0000f4"/>
<rect x="389.57" y="250.68" width="7.95" height="7.98" fill="#0027ff"/>
<rect x="396.81" y="250.68" width="7.95" height="7.98" fill="#0027ff"/>
<rect x="404.06" y="250.68" width="7.95" height="7.98" fill="#0059ff"/>
<rect x="411.31" y="250.68" width="7.95" height="7.98" fill="#0059ff"/>
<rect x="418.55" y="250.68" width="7.95" height="7.98" fill="#008bff"/>
<rect x="425.80" y="250.68" width="7.95" height="7.98" fill="#0059ff"/>
<rect x="433.05" y="250.68" width="7.95" height="7.98" fill="#00f0ff"/>
<rect x="440.29" y="250.68" width="7.95" height="7.98" fill="#0dffcc"/>
<rect x="447.54" y="250.68" width="7.25" height="7.28" fill="#008bff"/>
<rect x="462.03" y="250.68" width="7.95" height="7.28" fill="#0000c2"/>
<rect x="469.28" y="250.68" width="7.25" height="7.98" fill="#49ff6d"/>
<rect x="367.83" y="257.95" width="7.95" height="7.98" fill="#00f0ff"/>
<rect x="375.07" y="257.95" width="7.95" height="7.98" fill="#31ff8a"/>
<rect x="382.32" y="257.95" width="7.95" height="7.98" fill="#008bff"/>
<rect x="389.57" y="257.95" width="7.95" height="7.98" fill="#0000f4"/>
<rect x="396.81" y="257.95" width="7.95" height="7.98" fill="#0000f4"/>
<rect x="404.06" y="257.95" width="7.95" height="7.98" fill="#0027ff"/>
<rect x="411.31" y="257.95" width="7.95" height="7.98" fill="#008bff"/>
<rect x="418.55" y="257.95" width="7.95" height="7.98" fill="#0027ff"/>
<rect x="425.80" y="257.95" width="7.95" height="7.98" fill="#008bff"/>
<rect x="433.05" y="257.95" width="7.95" height="7.98" fill="#008bff"/>
<rect x="440.29" y="257.95" width="7.25" height="7.98" fill="#0059ff"/>
<rect x="469.28" y="257.95" width="7.95" height="7.98" fill="#00beff"/>
<rect x="476.53" y="257.95" width="7.25" height="7.98" fill="#0059ff"/>
<rect x="367.83" y="265.23" width="7.95" height="7.98" fill="#0027ff"/>
<rect x="375.07" y="265.23" width="7.95" height="7.98" fill="#00f0ff"/>
<rect x="382.32" y="265.23" width="7.95" height="7.98" fill="#0027ff"/>
<rect x="389.57" y="265.23" width="7.95" height="7.98" fill="#0000f4"/>
<rect x="396.81" y="265.23" width="7.95" height="7.98" fill="#0000f4"/>
<rect x="404.06" y="265.23" width="7.95" height="7.98" fill="#0027ff"/>
<rect x="411.31" y="265.23" width="7.95" height="7.98" fill="#0059ff"/>
<rect x="418.55" y="265.23" width="7.95" height="7.98" fill="#0059ff"/>
<rect x="425.80" y="265.23" width="7.95" height="7.98" fill="#0027ff"/>
<rect x="433.05" y="265.23" width="7.95" height="7.98" fill="#0027ff"/>
<rect x="440.29" y="265.23" width="7.95" height="7.98" fill="#0027ff"/>
<rect x="447.54" y="265.23" width="7.25" height="7.98" fill="#0000c2"/>
<rect x="462.03" y="265.23" width="7.95" height="7.98" fill="#0059ff"/>
<rect x="469.28" y="265.23" width="7.95" height="7.98" fill="#0027ff"/>
<rect x="476.53" y="265.23" width="7.25" height="7.28" fill="#0dffcc"/>
<rect x="498.27" y="265.23" width="7.95" height="7.28" fill="#0027ff"/>
<rect x="505.51" y="265.23" width="7.95" height="7.28" fill="#0027ff"/>
<rect x="512.76" y="265.23" width="7.25" height="7.98" fill="#0027ff"/>
<rect x="360.58" y="272.50" width="7.95" height="7.98" fill="#0059ff"/>
<rect x="367.83" y="272.50" width="7.95" height="7.98" fill="#00beff"/>
<rect x="375.07" y="272.50" width="7.95" height="7.98" fill="#0059ff"/>
<rect x="382.32" y="272.50" width="7.95" height="7.98" fill="#0027ff"/>
<rect x="389.57" y="272.50" width="7.95" height="7.98" fill="#0027ff"/>
<rect x="396.81" y="272.50" width="7.95" height="7.98" fill="#0059ff"/>
<rect x="404.06" y="272.50" width="7.95" height="7.98" fill="#0059ff"/>
<rect x="411.31" y="272.50" width="7.95" height="7.98" fill="#0027ff"/>
<rect x="418.55" y="272.50" width="7.95" height="7.98" fill="#0027ff"/>
<rect x="425.80" y="272.50" width="7.95" height="7.98" fill="#0027ff"/>
<rect x="433.05" y="272.50" width="7.95" height="7.98" fill="#0027ff"/>
<rect x="440.29" y="272.50" width="7.95" height="7.98" fill="#0027ff"/>
<rect x="447.54" y="272.50" width="7.95" height="7.98" fill="#0000f4"/>
<rect x="454.79" y="272.50" width="7.95" height="7.98" fill="#008bff"/>
<rect x="462.03" y="272.50" width="7.95" height="7.28" fill="#0059ff"/>
<rect x="469.28" y="272.50" width="7.25" height="7.28" fill="#0dffcc"/>
<rect x="512.76" y="272.50" width="7.25" height="7.28" fill="#0000f4"/>
<rect x="346.09" y="279.78" width="7.95" height="7.98" fill="#00beff"/>
<rect x="353.33" y="279.78" width="7.95" height="7.98" fill="#008bff"/>
<rect x="360.58" y="279.78" width="7.95" height="7.98" fill="#0027ff"/>
<rect x="367.83" y="279.78" width="7.95" height="7.98" fill="#0000f4"/>
<rect x="375.07" y="279.78" width="7.95" height="7.98" fill="#31ff8a"/>
<rect x="382.32" y="279.78" width="7.95" height="7.98" fill="#008bff"/>
<rect x="389.57" y="279.78" width="7.95" height="7.98" fill="#008bff"/>
<rect x="396.81" y="279.78" width="7.95" height="7.98" fill="#0059ff"/>
<rect x="404.06" y="279.78" width="7.95" height="7.98" fill="#0027ff"/>
<rect x="411.31" y="279.78" width="7.95" height="7.98" fill="#0059ff"/>
<rect x="418.55" y="279.78" width="7.95" height="7.98" fill="#008bff"/>
<rect x="425.80" y="279.78" width="7.95" height="7.98" fill="#0059ff"/>
<rect x="433.05" y="279.78" width="7.95" height="7.98" fill="#0027ff"/>
<rect x="440.29" y="279.78" width="7.95" height="7.98" fill="#0027ff"/>
<rect x="447.54" y="279.78" width="7.95" height="7.98" fill="#0059ff"/>
<rect x="454.79" y="279.78" width="7.25" height="7.98" fill="#008bff"/>
<rect x="338.84" y="287.05" width="7.95" height="7.28" fill="#00f0ff"/>
<rect x="346.09" y="287.05" width="7.95" height="7.98" fill="#0027ff"/>
<rect x="353.33" y="287.05" width="7.95" height="7.98" fill="#0059ff"/>
<rect x="360.58" y="287.05" width="7.95" height="7.98" fill="#0027ff"/>
<rect x="367.83" y="287.05" width="7.95" height="7.98" fill="#008bff"/>
<rect x="375.07" y="287.05" width="7.95" height="7.98" fill="#0dffcc"/>
<rect x="382.32" y="287.05" width="7.95" height="7.98" fill="#0027ff"/>
<rect x="389.57" y="287.05" width="7.95" height="7.98" fill="#0059ff"/>
<rect x="396.81" y="287.05" width="7.95" height="7.98" fill="#0059ff"/>
<rect x="404.06" y="287.05" width="7.95" height="7.98" fill="#0027ff"/>
<rect x="411.31" y="287.05" width="7.95" height="7.98" fill="#0059ff"/>
<rect x="418.55" y="287.05" width="7.95" height="7.98" fill="#0059ff"/>
<rect x="425.80" y="287.05" width="7.95" height="7.98" fill="#0000c2"/>
<rect x="433.05" y="287.05" width="7.95" height="7.98" fill="#0059ff"/>
<rect x="440.29" y="287.05" width="7.95" height="7.98" fill="#0027ff"/>
<rect x="447.54" y="287.05" width="7.95" height="7.98" fill="#0059ff"/>
<rect x="454.79" y="287.05" width="7.95" height="7.98" fill="#0059ff"/>
<rect x="462.03" y="287.05" width="7.95" height="7.98" fill="#0000f4"/>
<rect x="469.28" y="287.05" width="7.25" height="7.98" fill="#00beff"/>
<rect x="346.09" y="294.33" width="7.95" height="7.98" fill="#0059ff"/>
<rect x="353.33" y="294.33" width="7.95" height="7.98" fill="#0000f4"/>
<rect x="360.58" y="294.33" width="7.95" height="7.98" fill="#0000f4"/>
<rect x="367.83" y="294.33" width="7.95" height="7.98" fill="#0027ff"/>
<rect x="375.07" y="294.33" width="7.95" height="7.98" fill="#008bff"/>
<rect x="382.32" y="294.33" width="7.95" height="7.98" fill="#0027ff"/>
<rect x="389.57" y="294.33" width="7.95" height="7.98" fill="#008bff"/>
<rect x="396.81" y="294.33" width="7.95" height="7.98" fill="#0059ff"/>
<rect x="404.06" y="294.33" width="7.95" height="7.98" fill="#0059ff"/>
<rect x="411.31" y="294.33" width="7.95" height="7.98" fill="#0027ff"/>
<rect x="418.55" y="294.33" width="7.95" height="7.98" fill="#0059ff"/>
<rect x="425.80" y="294.33" width="7.95" height="7.98" fill="#0027ff"/>
<rect x="433.05" y="294.33" width="7.95" height="7.98" fill="#0027ff"/>
<rect x="440.29" y="294.33" width="7.95" height="7.98" fill="#008bff"/>
<rect x="447.54" y="294.33" width="7.95" height="7.98" fill="#0059ff"/>
<rect x="454.79" y="294.33" width="7.95" height="7.98" fill="#008bff"/>
<rect x="462.03" y="294.33" width="7.95" height="7.98" fill="#0059ff"/>
<rect x="469.28" y="294.33" width="7.95" height="7.98" fill="#00f0ff"/>
<rect x="476.53" y="294.33" width="7.25" height="7.98" fill="#ff7c00"/>
<rect x="346.09" y="301.60" width="7.95" height="7.98" fill="#ff4900"/>
<rect x="353.33" y="301.60" width="7.95" height="7.98" fill="#0027ff"/>
<rect x="360.58" y="301.60" width="7.95" height="7.98" fill="#0027ff"/>
<rect x="367.83" y="301.60" width="7.95" height="7.98" fill="#0027ff"/>
<rect x="375.07" y="301.60" width="7.95" height="7.28" fill="#0059ff"/>
<rect x="382.32" y="301.60" width="7.95" height="7.98" fill="#0027ff"/>
<rect x="389.57" y="301.60" width="7.95" height="7.98" fill="#0027ff"/>
<rect x="396.81" y="301.60" width="7.95" height="7.98" fill="#0059ff"/>
<rect x="404.06" y="301.60" width="7.95" height="7.98" fill="#0027ff"/>
<rect x="411.31" y="301.60" width="7.95" height="7.98" fill="#0027ff"/>
<rect x="418.55" y="301.60" width="7.95" height="7.98" fill="#0027ff"/>
<rect x="425.80" y="301.60" width="7.95" height="7.98" fill="#0000f4"/>
<rect x="433.05" y="301.60" width="7.95" height="7.98" fill="#0027ff"/>
<rect x="440.29" y="301.60" width="7.95" height="7.98" fill="#008bff"/>
<rect x="447.54" y="301.60" width="7.95" height="7.98" fill="#0000f4"/>
<rect x="454.79" y="301.60" width="7.95" height="7.98" fill="#008bff"/>
<rect x="462.03" y="301.60" width="7.95" height="7.98" fill="#0059ff"/>
<rect x="469.28" y="301.60" width="7.95" height="7.28" fill="#ffae00"/>
<rect x="476.53" y="301.60" width="7.95" height="7.28" fill="#0000f4"/>
<rect x="483.77" y="301.60" width="7.25" height="7.28" fill="#008bff"/>
<rect x="346.09" y="308.88" width="7.95" height="7.98" fill="#008bff"/>
<rect x="353.33" y="308.88" width="7.95" height="7.98" fill="#00beff"/>
<rect x="360.58" y="308.88" width="7.95" height="7.28" fill="#0027ff"/>
<rect x="367.83" y="308.88" width="7.25" height="7.28" fill="#0027ff"/>
<rect x="382.32" y="308.88" width="7.95" height="7.28" fill="#0000f4"/>
<rect x="389.57" y="308.88" width="7.95" height="7.28" fill="#00beff"/>
<rect x="396.81" y="308.88" width="7.95" height="7.98" fill="#0027ff"/>
<rect x="404.06" y="308.88" width="7.95" height="7.98" fill="#0027ff"/>
<rect x="411.31" y="308.88" width="7.95" height="7.98" fill="#008bff"/>
<rect x="418.55" y="308.88" width="7.95" height="7.98" fill="#0027ff"/>
<rect x="425.80" y="308.88" width="7.95" height="7.98" fill="#0000f4"/>
<rect x="433.05" y="308.88" width="7.95" height="7.98" fill="#0027ff"/>
<rect x="440.29" y="308.88" width="7.95" height="7.98" fill="#0027ff"/>
<rect x="447.54" y="308.88" width="7.95" height="7.98" fill="#00beff"/>
<rect x="454.79" y="308.88" width="7.95" height="7.98" fill="#0027ff"/>
<rect x="462.03" y="308.88" width="7.25" height="7.28" fill="#008bff"/>
<rect x="331.59" y="316.15" width="7.95" height="7.28" fill="#0059ff"/>
<rect x="338.84" y="316.15" width="7.95" height="7.28" fill="#0027ff"/>
<rect x="346.09" y="316.15" width="7.95" height="7.98" fill="#0000f4"/>
<rect x="353.33" y="316.15" width="7.25" height="7.98" fill="#0000c2"/>
<rect x="396.81" y="316.15" width="7.95" height="7.28" fill="#0059ff"/>
<rect x="404.06" y="316.15" width="7.95" height="7.28" fill="#0027ff"/>
<rect x="411.31" y="316.15" width="7.95" height="7.28" fill="#0027ff"/>
<rect x="418.55" y="316.15" width="7.95" height="7.28" fill="#0027ff"/>
<rect x="425.80" y="316.15" width="7.95" height="7.28" fill="#0000f4"/>
<rect x="433.05" y="316.15" width="7.95" height="7.28" fill="#0000c2"/>
<rect x="440.29" y="316.15" width="7.95" height="7.28" fill="#0059ff"/>
<rect x="447.54" y="316.15" width="7.95" height="7.28" fill="#008bff"/>
<rect x="454.79" y="316.15" width="7.25" height="7.98" fill="#008bff"/>
<rect x="346.09" y="323.43" width="7.95" height="7.28" fill="#0000c2"/>
<rect x="353.33" y="323.43" width="7.25" height="7.28" fill="#0000c2"/>
<rect x="454.79" y="323.43" width="7.95" height="7.28" fill="#0059ff"/>
<rect x="462.03" y="323.43" width="7.25" height="7.28" fill="#0059ff"/>
<clipPath id="cld"><rect x="317.10" y="219.15" width="217.40" height="111.55"/></clipPath>
<g clip-path="url(#cld)">
<g fill="none" stroke="#f2d4f2" stroke-width="0.5" stroke-opacity="0.8" stroke-linejoin="round"><polyline points="438.6,214.3 436.2,216.2 433.8,218.4 431.1,220.8 428.7,222.8 426.3,225.0 423.4,226.4 421.0,226.9 419.0,225.9 417.6,226.4 415.4,228.1 413.2,230.3 413.0,231.8 410.3,233.5 407.9,234.4 407.4,235.6 409.4,236.9 410.8,238.8 412.3,241.0 412.5,243.4 412.0,245.1 410.3,245.8 408.4,246.3 405.5,247.3 404.8,245.8 405.5,243.9 405.3,241.9 406.2,241.0 405.0,239.3 402.4,239.0 401.2,238.1 402.4,236.1 401.6,234.7 400.0,233.9 397.3,234.4 394.9,235.6 392.5,236.6 393.4,234.9 394.9,232.5 393.4,231.5 391.5,232.0 388.8,233.9 386.7,235.6 384.3,235.9 384.0,237.6 385.9,238.6 387.2,240.2 389.3,240.2 391.5,239.0 393.4,239.8 395.8,240.2 395.4,241.2 392.7,241.9 391.0,242.9 389.3,244.4 387.9,245.8 388.8,247.0 390.3,247.8 391.5,250.2 392.0,251.9 393.9,253.6 394.2,255.5 392.5,256.5 391.0,257.2 393.4,258.0 394.4,258.7 393.7,260.6 393.2,262.3 391.5,263.5 390.3,265.2 389.1,266.7 388.4,268.6 386.9,270.1 385.2,271.3 383.8,273.0 381.8,274.2 379.9,275.2 377.5,275.7 375.8,276.4 374.1,276.6 372.7,277.4 370.2,277.8 367.8,278.6 366.4,279.3 366.4,281.2 365.2,281.2 364.9,278.8 363.0,278.3 361.1,278.3 359.1,279.3 357.4,280.7 356.5,282.4 355.3,284.1 355.5,285.8 357.0,287.5 358.6,289.7 360.6,291.4 362.3,293.4 363.2,295.8 363.7,298.2 363.7,300.4 363.2,302.6 361.5,303.8 359.6,305.0 357.9,305.5 357.4,306.9 355.7,307.9 353.8,309.6 353.1,308.1 353.3,306.5 352.1,305.5 350.2,305.0 348.7,303.5 348.0,302.1 346.6,300.9 344.9,299.9 343.4,299.7 343.4,298.2 342.2,298.0 341.3,298.7 341.3,300.9 340.5,302.8 339.6,305.0 339.3,307.4 340.8,308.4 341.3,310.1 342.0,312.3 343.2,314.0 345.1,314.2 346.6,315.7 348.0,317.1 349.2,319.1 349.5,321.0 349.5,323.4 350.4,325.1 351.4,327.1 350.0,327.5 348.0,326.1 345.8,324.6 344.4,323.4 343.2,321.2 342.7,319.5 342.2,317.6 342.0,315.7 340.8,314.2 339.6,312.8 338.4,311.5 337.1,310.6 337.1,308.4 337.9,306.0 338.1,303.5 338.1,301.1 337.9,298.7 336.7,296.8 335.9,294.3 335.7,291.9 334.5,290.0 332.8,290.4 330.6,292.1 328.7,292.1 327.5,291.4 328.0,288.7 327.5,286.3 326.3,284.1 324.8,282.2 323.4,280.7 322.2,279.0 321.4,276.9 320.0,275.9 318.5,276.4 317.6,277.4 317.1,277.6"/><polyline points="365.4,282.0 367.6,282.2 367.8,283.2 366.6,285.1 364.7,286.6 362.5,285.8 362.0,283.9 363.5,282.4 365.4,282.0"/><polyline points="393.2,269.3 394.4,270.1 393.4,272.5 392.2,275.4 391.5,277.6 390.3,275.9 389.8,273.7 391.0,271.3 393.2,269.3"/><polyline points="404.5,249.9 406.2,249.5 405.5,250.2 404.5,249.9"/><polyline points="415.9,248.5 417.8,249.2 418.6,251.2 417.3,254.1 415.4,255.5 414.2,254.8 414.4,251.9 413.0,250.9 413.2,249.5 415.9,248.5"/><polyline points="419.8,248.3 422.7,247.5 424.8,247.8 425.1,248.7 423.9,249.9 421.0,251.2 419.5,249.9 419.8,248.3"/><polyline points="415.9,248.3 416.1,247.3 419.0,245.1 421.5,244.4 424.6,244.4 427.2,244.4 428.2,242.9 429.9,241.0 431.4,239.8 430.6,241.5 433.5,240.5 435.7,238.6 437.4,236.1 437.9,233.7 437.6,232.0 438.6,230.8 440.8,230.3 441.5,232.2 442.7,234.4 441.7,237.1 440.3,238.6 440.3,241.0 439.3,242.9 439.8,244.1 438.4,245.8 437.4,244.6 435.9,245.1 435.2,246.6 433.5,246.8 431.1,246.8 430.1,245.8 429.7,247.3 428.2,249.2 426.5,248.7 426.5,246.8 424.6,246.6 422.2,247.3 419.3,247.8 416.1,248.4 415.9,248.3"/><polyline points="438.1,230.1 438.6,228.1 437.4,227.2 439.1,225.7 441.3,225.7 442.0,222.8 442.5,220.4 445.1,222.5 448.3,224.0 450.7,223.3 451.4,225.7 448.7,226.5 445.8,228.9 442.7,227.4 440.3,227.6 439.1,228.6 440.5,229.3 438.1,230.1"/><polyline points="443.0,214.3 442.7,216.7 443.0,219.2 444.6,217.5 446.1,218.4 445.6,216.2 444.6,214.3"/><polyline points="391.0,285.8 392.5,285.6 394.6,285.8 395.1,288.5 394.4,290.7 393.4,292.1 393.4,294.6 394.9,296.5 396.8,296.8 399.0,297.5 399.5,299.2 399.0,299.9 397.5,298.4 395.8,297.7 393.9,297.0 392.2,297.5 391.3,297.0 391.7,295.3 390.0,294.8 389.3,292.9 389.3,291.2 390.5,290.4 390.5,288.0 391.0,285.8"/><polyline points="390.5,298.2 392.5,298.2 393.2,300.1 392.2,301.1 391.0,299.7 390.5,298.2"/><polyline points="382.8,310.3 384.7,308.1 386.7,306.0 388.4,304.5 387.9,303.3 386.2,305.5 384.0,308.1 382.8,310.3"/><polyline points="394.4,301.8 397.1,302.8 396.1,305.0 394.4,305.2 394.4,301.8"/><polyline points="396.8,304.3 398.0,304.8 397.3,308.4 395.6,307.4 396.8,304.3"/><polyline points="399.2,303.5 398.0,307.4"/><polyline points="400.0,300.4 402.4,300.6 403.3,303.8 402.1,306.0 401.2,306.2 400.4,303.3 400.0,300.4"/><polyline points="402.9,306.9 404.8,310.1 405.3,313.2 404.5,315.4 402.9,316.9 402.6,314.2 399.7,315.7 399.2,312.8 397.8,312.3 394.6,314.0 394.6,311.8 396.8,310.1 398.7,310.8 400.7,309.4 402.9,306.9"/><polyline points="363.5,330.7 363.0,328.5 363.2,326.8 364.4,325.9 366.1,326.6 368.3,327.3 368.8,324.6 370.7,323.4 372.7,322.7 374.3,320.5 376.3,319.1 378.5,317.4 379.9,315.7 381.6,313.7 383.0,314.7 384.0,316.2 386.2,317.1 387.6,318.1 385.2,319.5 384.0,320.8 383.5,322.7 384.7,325.4 386.7,328.0 384.7,328.5 383.5,330.7"/><polyline points="340.3,330.7 339.1,329.5 338.1,326.6 335.9,324.4 333.8,322.0 330.6,319.3 329.9,317.1 332.3,317.8 335.2,318.1 337.1,320.3 338.8,322.2 341.3,324.2 343.4,325.6 345.4,326.6 347.3,328.3 348.7,329.5 350.2,330.7"/><polyline points="389.1,330.7 389.6,328.8 391.5,327.5 393.4,328.0 395.8,328.3 398.3,328.5 400.4,327.5 402.1,326.8 400.9,329.2 398.3,329.7 395.4,329.5 392.5,329.5 390.3,330.7"/><polyline points="407.7,330.7 407.9,328.3 408.6,325.6 410.3,326.8 408.9,329.2 410.3,330.0 409.4,330.7"/><polyline points="324.1,298.0 323.9,300.9 323.4,302.6"/><polyline points="323.1,304.5 323.1,305.2"/><polyline points="326.3,313.2 326.0,314.0"/><polyline points="409.4,265.7 408.2,267.4"/><polyline points="451.9,223.0 453.1,222.5"/><polyline points="454.8,221.6 457.2,220.4"/></g>
</g>
<rect x="316.50" y="198.50" width="218.00" height="7.20" fill="url(#jet)"/>
<rect x="343.45" y="198.50" width="0.6" height="1.4" fill="#000" fill-opacity="0.55"/>
<rect x="343.45" y="204.70" width="0.6" height="1.0" fill="#000" fill-opacity="0.3"/>
<rect x="370.70" y="198.50" width="0.6" height="1.4" fill="#000" fill-opacity="0.55"/>
<rect x="370.70" y="204.70" width="0.6" height="1.0" fill="#000" fill-opacity="0.3"/>
<rect x="397.95" y="198.50" width="0.6" height="1.4" fill="#000" fill-opacity="0.55"/>
<rect x="397.95" y="204.70" width="0.6" height="1.0" fill="#000" fill-opacity="0.3"/>
<rect x="425.20" y="198.50" width="0.6" height="1.4" fill="#000" fill-opacity="0.55"/>
<rect x="425.20" y="204.70" width="0.6" height="1.0" fill="#000" fill-opacity="0.3"/>
<rect x="452.45" y="198.50" width="0.6" height="1.4" fill="#000" fill-opacity="0.55"/>
<rect x="452.45" y="204.70" width="0.6" height="1.0" fill="#000" fill-opacity="0.3"/>
<rect x="479.70" y="198.50" width="0.6" height="1.4" fill="#000" fill-opacity="0.55"/>
<rect x="479.70" y="204.70" width="0.6" height="1.0" fill="#000" fill-opacity="0.3"/>
<rect x="506.95" y="198.50" width="0.6" height="1.4" fill="#000" fill-opacity="0.55"/>
<rect x="506.95" y="204.70" width="0.6" height="1.0" fill="#000" fill-opacity="0.3"/>
<text transform="translate(315.70 193.70) rotate(-30)" x="0" y="0" font-size="9.3" text-anchor="start">0%</text>
<text transform="translate(342.95 193.70) rotate(-30)" x="0" y="0" font-size="9.3" text-anchor="start">10%</text>
<text transform="translate(370.20 193.70) rotate(-30)" x="0" y="0" font-size="9.3" text-anchor="start">20%</text>
<text transform="translate(397.45 193.70) rotate(-30)" x="0" y="0" font-size="9.3" text-anchor="start">30%</text>
<text transform="translate(424.70 193.70) rotate(-30)" x="0" y="0" font-size="9.3" text-anchor="start">40%</text>
<text transform="translate(451.95 193.70) rotate(-30)" x="0" y="0" font-size="9.3" text-anchor="start">50%</text>
<text transform="translate(479.20 193.70) rotate(-30)" x="0" y="0" font-size="9.3" text-anchor="start">60%</text>
<text transform="translate(506.45 193.70) rotate(-30)" x="0" y="0" font-size="9.3" text-anchor="start">70%</text>
<text transform="translate(533.70 193.70) rotate(-30)" x="0" y="0" font-size="9.3" text-anchor="start">80%</text>
<text x="313.80" y="334.60" font-size="10.6" text-anchor="end">0°N</text>
<text x="313.80" y="298.23" font-size="10.6" text-anchor="end">15°N</text>
<text x="313.80" y="261.85" font-size="10.6" text-anchor="end">30°N</text>
<text x="313.80" y="225.48" font-size="10.6" text-anchor="end">45°N</text>
<text x="317.10" y="344.00" font-size="10.6" text-anchor="middle">90°E</text>
<text x="389.57" y="344.00" font-size="10.6" text-anchor="middle">120°E</text>
<text x="462.03" y="344.00" font-size="10.6" text-anchor="middle">150°E</text>
<text x="534.50" y="344.00" font-size="10.6" text-anchor="middle">180°E</text>
<text x="424.80" y="355.50" font-size="10.3" text-anchor="middle">Longitude</text>
<text transform="translate(287.90 272.00) rotate(-90)" font-size="10.8" text-anchor="middle">Latitude</text>
<text x="278.70" y="208.30" font-size="12.6" text-anchor="start">(d)</text>
</g>
</svg></body></html>
